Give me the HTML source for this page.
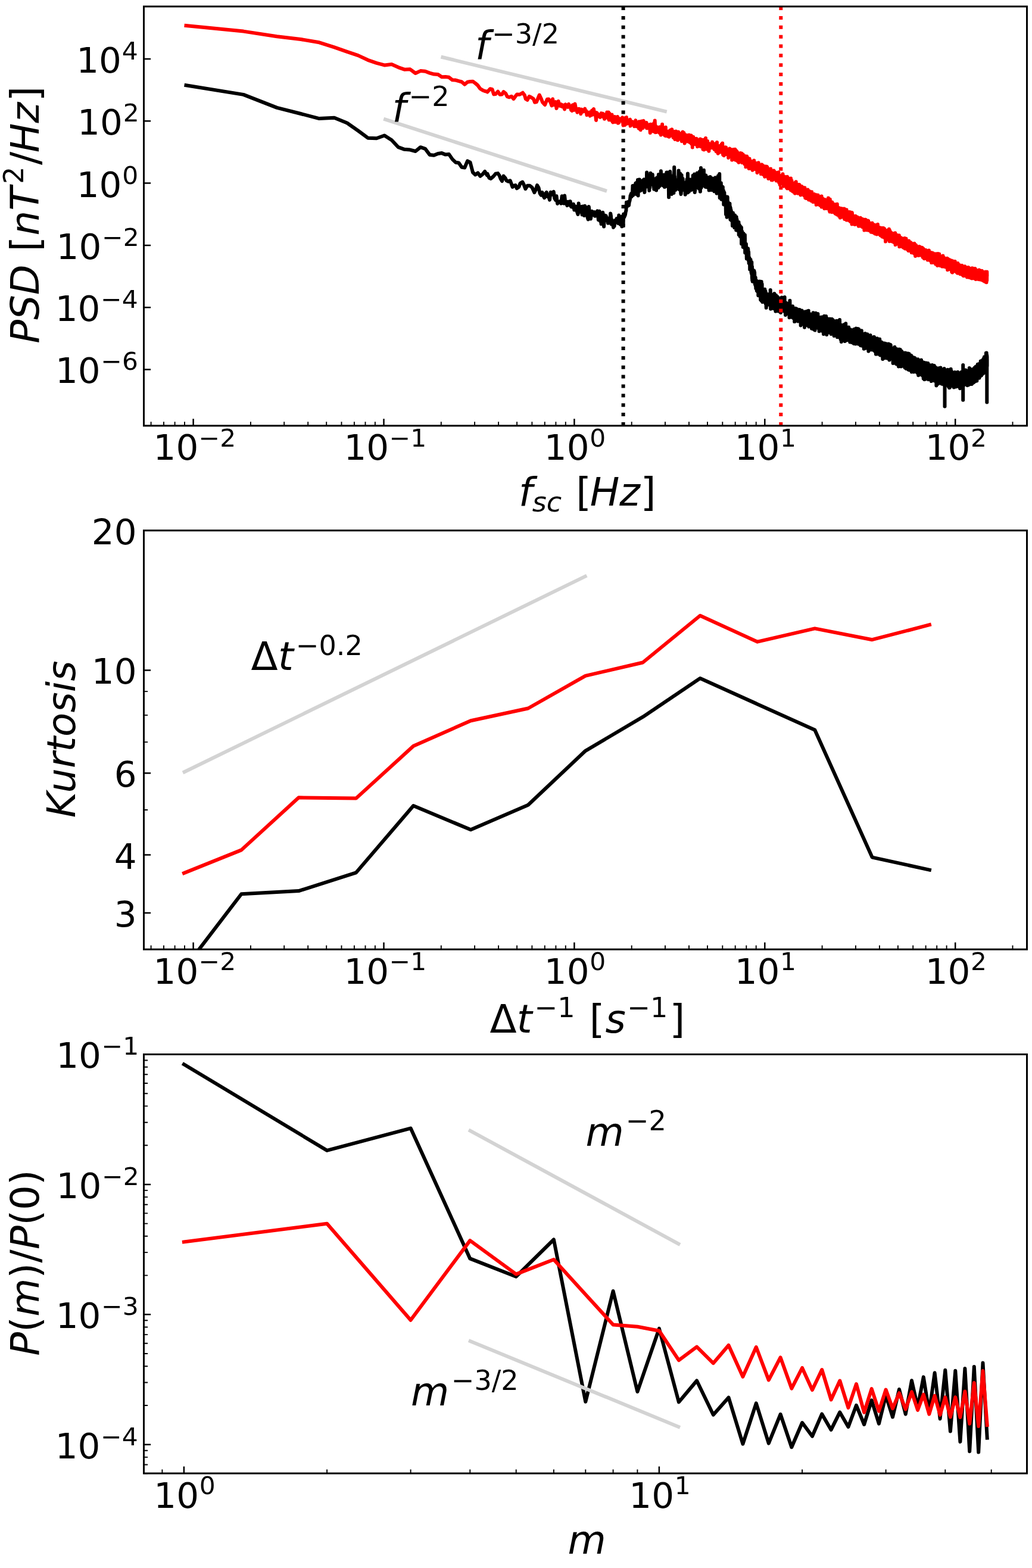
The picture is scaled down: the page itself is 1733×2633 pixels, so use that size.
<!DOCTYPE html>
<html lang="en"><head><meta charset="utf-8"><title>PSD, Kurtosis and P(m)/P(0)</title>
<style>html,body{margin:0;padding:0;background:#fff}body{width:1733px;height:2633px;overflow:hidden}svg{display:block}text{fill:#000}.i{font-style:italic}</style></head>
<body>
<svg width="1733" height="2633" viewBox="0 0 1733 2633" font-family='"DejaVu Sans","Liberation Sans",sans-serif'>
<rect width="1733" height="2633" fill="#fff"/>
<defs>
<clipPath id="c0"><rect x="241.5" y="10.9" width="1483" height="704"/></clipPath>
<clipPath id="c1"><rect x="241.5" y="890.8" width="1483" height="703.4"/></clipPath>
<clipPath id="c2"><rect x="241.5" y="1770.5" width="1483" height="703.6"/></clipPath>
</defs>
<g clip-path="url(#c0)">
<path d="M740.5 95.5L1119.7 187.6" fill="none" stroke="#d3d3d3" stroke-width="6" stroke-linecap="butt" stroke-linejoin="round"/>
<path d="M644.2 199.7L1019 320.8" fill="none" stroke="#d3d3d3" stroke-width="6" stroke-linecap="butt" stroke-linejoin="round"/>
<path d="M312.5 143.3L408.8 158.9L465.1 180.9L505.1 191L536.1 199.1L561.4 197.8L582.8 206.5L601.4 219.5L617.8 231.7L632.4 232.3L645.6 227.5L657.7 235.2L668.9 247.2L679.1 250.8L688.7 251.6L697.7 254L706.1 247.2L714.1 249.9L721.6 259.9L728.7 260.7L735.5 257.9L741.9 257.1L748.1 259.6L754 259.1L759.7 267.4L765.1 272.7L770.4 273.5L775.4 280.7L780.3 281.5L785 270.3L789.6 272.7L794 289.5L798.3 293.5L802.4 290.3L806.4 295.8L810.4 292.7L814.2 287.9L817.9 294.3L818.4 291.8L821.5 298.7L824.2 299.9L828.4 296.4L832.2 291.8L836.1 291.1L838.7 294.9L840.7 300.2L843 304.1L845.6 295.7L848.3 298.7L850.6 303.3L853.7 304.8L856.7 303.3L859 309.4L860.6 314L863.6 311.7L865.6 311L867.9 316.3L871.3 314L873.6 307.9L877.4 305.6L879.7 310.2L882.4 317.1L885.9 311.7L889.7 311.7L893.5 314.8L897.4 323.2L899.7 318.6L902 311L904.6 315.6L906.7 324.8L908.6 327.7L910.5 323L912.3 328.7L914.2 332.2L916 325.7L917.8 322.9L919.6 330.2L921.3 330.2L923 335.7L924.7 322.7L926.4 326.9L928.1 326.5L929.7 321.9L931.3 333.1L933 336L934.5 329.3L936.1 342L937.7 339.3L939.2 338.8L940.7 338L942.2 341.7L943.7 329.2L945.2 341L946.6 341.6L948.1 328.6L949.5 341.4L950.9 338.6L952.3 345.1L953.7 338.7L955.1 341.8L956.4 344.4L957.7 338.1L959.1 347.1L960.4 343.7L961.7 347.9L963 342.7L964.3 352.6L965.5 350.6L966.8 346.7L968 352.1L969.3 356.3L970.5 360L971.7 341.4L972.9 356.1L974.1 354.4L975.3 351.8L976.5 347L977.6 360.5L978.8 346.4L979.9 357.3L981.1 362L982.2 345.7L983.3 353.6L984.4 348.2L985.5 357.5L986.6 365.2L987.7 368.5L988.8 347L989.8 354.3L990.9 362.1L991.9 367.5L993 361.1L994 354.7L995 361L996 359.5L997 358.8L998.1 356L999 362.8L1000 362.6L1001 360.6L1002 360.2L1003 354.3L1003.9 359.2L1004.9 369.3L1005.8 361.5L1006.8 354.6L1007.7 370.9L1008.6 366.6L1009.6 376.1L1010.5 364.6L1011.4 362L1012.3 356.7L1013.2 373L1014.1 380.6L1015 361.3L1015.9 362.7L1016.7 370.2L1017.6 362.3L1018.5 365.9L1019.3 365.8L1020.2 369.3L1021 374.8L1021.9 369L1022.7 374.5L1023.5 367.1L1024.4 372L1025.2 358.4L1026 362.9L1026.8 376.5L1027.6 369.1L1028.5 376.4L1029.3 376.8L1030 381.9L1030.8 378.8L1031.6 379.9L1032.4 373.3L1033.2 369.9L1034 369.6L1034.7 370.9L1035.5 367.1L1036.3 370.4L1037 373L1037.8 374.9L1038.5 371.4L1039.3 361.6L1040 371.6L1040.7 372.6L1041.5 377L1042.2 373.3L1042.9 365.1L1043.6 363.9L1044.4 380.3L1045.1 371.7L1045.8 378L1046.5 379.4L1047.2 359.4L1047.9 365.3L1048.6 363.7L1049.3 362.4L1050 360.3L1050.7 355.9L1051.4 353.7L1052 339.8L1052.7 347.3L1053.4 341L1054 345.4L1054.7 339L1055.4 345.2L1056 344.8L1056.7 339.4L1057.3 337.8L1058 334.5L1058.6 328.6L1059.3 329.2L1059.9 324.9L1060.6 330.4L1061.2 325.8L1061.8 328.7L1062.5 311.9L1063.1 328L1063.7 313.3L1064.3 311.9L1065 315.6L1065.6 312.4L1066.2 319L1066.8 311.8L1067.4 307.5L1068 309.1L1068.6 326.1L1069.2 315.6L1069.8 305.7L1070.4 314.8L1071 302L1071.6 328.5L1072.2 301.8L1072.8 317.5L1073.3 317.8L1073.9 301.6L1074.5 315.3L1075.1 320.6L1075.7 316.1L1076.2 314.2L1076.8 319.5L1077.4 312.9L1077.9 314.1L1078.5 310.1L1079 315.9L1079.6 303.1L1080.2 316.7L1080.7 306.1L1081.3 301.2L1081.8 312.6L1082.4 323L1082.9 317L1083.4 305L1084 314.5L1084.5 305.1L1085 307.5L1085.6 309L1086.1 289.6L1086.6 309.5L1087.2 299.5L1087.7 302L1088.2 295.6L1088.7 295.1L1089.3 299.5L1089.8 313.5L1090.3 320L1090.8 306.3L1091.3 315L1091.8 304L1092.3 290.7L1092.8 307L1093.3 309.2L1093.8 302L1094.3 307.7L1094.8 309.6L1095.3 298L1095.8 292.9L1096.3 302.8L1096.8 302.7L1097.3 301.4L1097.8 311.9L1098.3 317.7L1098.8 300.3L1099.3 309.2L1099.7 311.1L1100.2 309.2L1100.7 311.8L1101.2 300.3L1101.7 309.3L1102.1 319.5L1102.6 309.7L1103.1 298.2L1103.5 308L1104 313.2L1104.5 306L1104.9 298.5L1105.4 315.3L1105.9 292.9L1106.3 306.9L1106.8 302.7L1107.2 293.2L1107.7 312.5L1108.1 305.5L1108.6 293.3L1109 307.4L1109.5 299.1L1109.9 287.3L1110.4 297L1110.8 304.5L1111.3 307.5L1111.7 303.7L1112.1 302.7L1112.6 306L1113 300.5L1113.5 311.6L1113.9 303.3L1114.3 304.4L1114.8 306.4L1115.2 293.5L1115.6 296.3L1116.1 314.1L1116.5 304.6L1116.9 299.7L1117.3 304.7L1117.8 298.1L1118.2 304.3L1118.6 296.7L1119 304.3L1119.4 289.5L1119.8 312.8L1120.3 298.1L1120.7 289.5L1121.1 300.4L1121.5 299.3L1121.9 303.5L1122.3 293.1L1122.7 305.5L1123.1 331.3L1123.5 292.1L1123.9 305.1L1124.3 299.9L1124.8 304L1125.2 288L1125.6 293.3L1125.9 306.2L1126.3 302.2L1126.7 315.7L1127.1 297L1127.5 304L1127.9 326L1128.3 296.6L1128.7 295.5L1129.1 302.4L1129.5 302.4L1129.9 309.5L1130.3 303.8L1130.6 296.8L1131 304.5L1131.4 324L1131.8 313.1L1132.2 280.7L1132.6 301.8L1132.9 296L1133.3 308L1133.7 301.9L1134.1 319.1L1134.4 311.4L1134.8 311.4L1135.2 306.2L1135.6 304.7L1135.9 308.1L1136.3 316.1L1136.7 310.3L1137 303.6L1137.4 316.9L1137.8 308.6L1138.1 306.8L1138.5 301.4L1138.9 303.6L1139.2 303.3L1139.6 286.4L1139.9 317.2L1140.3 314L1140.7 308.1L1141 318.5L1141.4 313.9L1141.7 313.7L1142.1 291.3L1142.4 309.3L1142.8 315.5L1143.2 324.2L1143.5 326.1L1143.9 322.9L1144.2 302.2L1144.6 294L1144.9 316.2L1145.2 311.9L1145.6 319.5L1145.9 310.9L1146.3 313.7L1146.6 300L1147 315.6L1147.3 308.6L1147.7 315L1148 315.9L1148.3 311.4L1148.7 314.9L1149 312.4L1149.3 318.6L1149.7 316.6L1150 308.3L1150.3 308L1150.7 326.7L1151 311.8L1151.3 320.4L1151.7 315.4L1152 307.5L1152.3 305.9L1152.7 312.6L1153 313.5L1153.3 316.2L1153.6 301L1154 306.2L1154.3 310L1154.6 323.4L1154.9 291.5L1155.3 313.7L1155.6 305.7L1155.9 313.3L1156.2 305.7L1156.6 312.4L1156.9 321.8L1157.2 311.9L1157.5 312.4L1157.8 311.7L1158.1 302.6L1158.5 312.7L1158.8 306.5L1159.1 301.5L1159.4 307.6L1159.7 306L1160 313.7L1160.3 307.2L1160.6 303.3L1161 319L1161.3 315.2L1161.6 317.4L1161.9 312L1162.2 306.1L1162.5 303.6L1162.8 304.6L1163.1 314.3L1163.4 307.6L1163.7 294.7L1164 306.2L1164.3 295.1L1164.6 307.6L1164.9 296.6L1165.2 296L1165.5 307L1165.8 305.3L1166.1 292.5L1166.4 311.7L1166.7 323L1167 293.7L1167.3 320L1167.6 299.9L1167.9 301.3L1168.2 303.8L1168.5 293.5L1168.8 315.4L1169.1 308.8L1169.4 298.8L1169.6 302.5L1169.9 292.5L1170.2 301.7L1170.5 311.9L1170.8 290.6L1171.1 300.7L1171.4 305.3L1171.7 312.4L1172 314.7L1172.2 300.2L1172.5 297.8L1172.8 307.2L1173.1 300.6L1173.4 301L1173.7 312L1173.9 316.8L1174.2 305.3L1174.5 301.5L1174.8 307.5L1175.1 287.8L1175.3 302.6L1175.6 294.2L1175.9 321.7L1176.2 308.3L1176.5 303.5L1176.7 300.8L1177 282.1L1177.3 307.8L1177.6 315.1L1177.8 296.1L1178.4 307.5L1178.7 289.3L1178.9 309.1L1179.2 312.3L1179.5 303.2L1179.7 300.8L1180 307.5L1180.3 289.1L1180.5 302.3L1180.8 310.2L1181.1 292L1181.3 310L1181.6 298.9L1181.9 285.8L1182.1 301.7L1182.4 295L1182.7 305.5L1182.9 293.7L1183.2 311.7L1183.5 297.5L1183.7 306.5L1184 299L1184.3 301.4L1184.5 313.6L1184.8 306L1185 301.3L1185.3 294.6L1185.6 314.1L1185.8 310.8L1186.1 302.5L1186.3 307.2L1186.6 297.2L1186.8 297.5L1187.4 308.8L1187.6 308.5L1187.9 300.3L1188.1 312.3L1188.4 312.9L1188.6 308.2L1188.9 315.2L1189.1 304.8L1189.4 306.4L1189.6 311.2L1189.9 307.3L1190.1 314.1L1190.4 297.9L1190.6 319.5L1190.9 302L1191.1 307.1L1191.4 297.5L1191.6 313.5L1191.9 319.1L1192.1 317.6L1192.4 315.9L1192.6 296.9L1192.9 303.2L1193.1 306L1193.4 302.3L1193.6 319L1193.9 311.6L1194.1 309.9L1194.3 314.1L1194.6 302.6L1194.8 303L1195.1 303.2L1195.3 314.3L1195.6 313L1195.8 315L1196 319L1196.3 299.5L1196.5 305.9L1196.8 311.6L1197 299.7L1197.2 306.2L1197.5 318.6L1197.7 319.4L1198.2 311L1198.4 308.9L1198.7 319.3L1198.9 307.7L1199.4 321.3L1199.6 307.8L1199.8 305.9L1200.1 310.8L1200.3 315.6L1200.5 314.7L1200.8 312.2L1201 315.4L1201.2 298.2L1201.7 312.3L1201.9 303.6L1202.2 300.3L1202.4 301.4L1202.6 303.8L1202.8 309.7L1203.1 303L1203.5 324.8L1203.8 310.1L1204 321.5L1204.2 313.6L1204.4 302.4L1204.7 309.3L1204.9 303.5L1205.1 317.6L1205.3 302.2L1205.6 322L1205.8 316.1L1206 295.3L1206.5 324L1206.7 305.3L1206.9 319.5L1207.1 297.3L1207.3 313.7L1207.6 298.4L1207.8 316L1208 298.3L1208.2 292L1208.4 316.6L1208.7 332.2L1208.9 309.6L1209.1 321.5L1209.5 313.2L1209.8 321.2L1210 329.8L1210.2 307.3L1210.4 322.1L1210.6 320.8L1210.8 307.2L1211.3 334.8L1211.5 312.3L1211.7 334L1211.9 321.2L1212.1 319.9L1212.4 333.5L1212.6 323.9L1212.8 325.1L1213 335.1L1213.2 334L1213.6 314.5L1213.8 313.9L1214.1 335.4L1214.3 320.3L1214.5 329.3L1214.7 320.6L1214.9 328.1L1215.1 320.4L1215.3 343.4L1215.5 323.8L1215.7 331.4L1216.1 342.8L1216.4 323.6L1216.6 334.8L1216.8 334.1L1217 340.4L1217.2 340.6L1217.4 334.3L1217.6 340.2L1217.8 336.3L1218 343.3L1218.4 336.3L1218.6 341.6L1219 359.9L1219.2 340.2L1219.6 356L1219.8 330.4L1220.2 337.6L1220.4 345.8L1220.6 364.8L1220.8 350.2L1221 356.4L1221.5 330.5L1221.7 332L1221.9 356.3L1222.1 350.7L1222.2 340.3L1222.4 358L1222.6 339.3L1222.8 358.8L1223 361.3L1223.2 345.9L1223.4 343.8L1223.6 358L1223.8 344.6L1224 358.7L1224.2 344.5L1224.4 359L1224.6 354.3L1225 348L1225.2 356.3L1225.4 341.7L1225.8 352.8L1226 360.6L1226.2 347.6L1226.4 368.4L1226.6 354.7L1226.8 349.4L1226.9 367.1L1227.1 369.3L1227.5 352.4L1227.7 358.9L1227.9 354.4L1228.1 357.3L1228.3 370.3L1228.7 361.5L1228.9 363.2L1229 360.8L1229.2 367.2L1229.4 367.8L1229.6 359.8L1230 379.1L1230.2 366.1L1230.4 362.5L1230.6 377.6L1230.7 364.5L1230.9 357.5L1231.1 369.6L1231.3 359.5L1231.7 368.3L1231.9 365.7L1232 361.9L1232.2 363.6L1232.4 363.7L1232.6 375.5L1232.8 363.6L1233 364.9L1233.2 382.1L1233.3 365.7L1233.5 379.2L1233.7 378.4L1234.1 361.6L1234.3 373.9L1234.6 377.9L1234.8 372.5L1235.2 381.5L1235.3 366.4L1235.5 382.4L1235.9 370.5L1236.1 372.4L1236.2 386.5L1236.4 381.3L1236.6 364.3L1236.8 376.3L1237.1 375.5L1237.3 373.8L1237.5 368.4L1237.7 383.1L1237.9 372.4L1238 376.3L1238.4 374.9L1238.6 384.3L1238.9 376.5L1239.1 375.2L1239.5 387.6L1239.6 382.9L1239.8 383.9L1240 381L1240.2 381.8L1240.3 385L1240.5 373.1L1240.7 394.2L1240.9 380.2L1241.2 393.7L1241.4 387.4L1241.5 386.7L1241.9 377.9L1242.1 388.8L1242.4 383L1242.6 397L1242.8 382.5L1243.1 393L1243.3 390.4L1243.4 394.9L1243.8 385.4L1243.9 380.8L1244.3 386.2L1244.5 384.5L1244.6 395.3L1245 382.3L1245.1 409.4L1245.5 387.9L1245.6 403.2L1245.8 403.2L1246.1 388.5L1246.3 391.8L1246.5 404.9L1246.6 396.8L1246.8 394.3L1247.1 407.3L1247.3 392.3L1247.5 398.8L1247.6 393.3L1247.8 414.9L1248 413.3L1248.1 408.6L1248.3 402.6L1248.5 407.8L1248.6 391.9L1248.8 406.5L1249.1 397.9L1249.3 402.1L1249.8 411.8L1249.9 409.7L1250.1 403L1250.3 413.1L1250.4 408.8L1250.6 417L1250.9 394.6L1251.1 408.6L1251.2 424.6L1251.6 411.6L1251.7 418.4L1251.9 416.7L1252.1 416.9L1252.2 411.6L1252.5 416.7L1252.7 412.2L1252.9 409.8L1253.2 423.1L1253.3 421.6L1253.5 421.2L1253.8 434.4L1254 421.1L1254.1 426.2L1254.3 432.2L1254.4 421.6L1254.6 423.5L1254.8 428.7L1254.9 433.1L1255.1 425.6L1255.2 426.5L1255.5 418.4L1255.7 432.7L1255.9 425.3L1256 417.2L1256.2 427.1L1256.3 418.4L1256.5 423.2L1256.9 437.3L1257.1 422.9L1257.6 441.9L1257.7 439.4L1258.2 435.4L1258.3 443L1258.5 433.1L1258.8 437.6L1258.9 440.1L1259.1 437.7L1259.2 452.4L1259.4 436.6L1259.9 446L1260 445.7L1260.3 450L1260.5 436.1L1260.6 445.6L1260.8 439L1260.9 448.2L1261.1 440.5L1261.2 442.5L1261.5 457.5L1261.7 453.3L1261.8 452.3L1262 459.4L1262.3 440.2L1262.4 450.6L1262.9 467.4L1263 447.8L1263.2 470.6L1263.5 462.3L1263.6 460.2L1263.8 472.8L1264 457.1L1264.2 461.3L1264.3 453.1L1264.8 464.6L1264.9 465.2L1265.1 457.4L1265.2 471.6L1265.4 458.5L1265.5 470L1265.7 456L1265.9 461.4L1266.1 466.8L1266.4 454.8L1266.5 461.4L1266.7 468.7L1266.8 472.4L1267.1 457.3L1267.3 465L1267.4 469.3L1267.7 466.7L1267.8 476.8L1268 477.9L1268.3 467.7L1268.4 474L1268.5 472.9L1268.7 466.1L1268.8 480L1269 475.8L1269.1 472.9L1269.3 484.3L1269.5 481.9L1269.7 484.4L1270 470.9L1270.1 476.3L1270.2 484.6L1270.4 474.6L1270.7 481.8L1270.8 488.1L1271.2 479.4L1271.4 485.9L1271.5 483.9L1271.6 480.2L1271.8 489.2L1271.9 484.4L1272.1 477.5L1272.2 489.4L1272.5 485.9L1272.6 474L1272.8 482.9L1273.2 472.7L1273.3 496.2L1273.4 483.3L1273.7 491L1273.9 484.1L1274 488L1274.1 477.4L1274.3 486.6L1274.4 483.3L1274.5 488.8L1275 476L1275.1 481L1275.2 491.3L1275.5 489.8L1275.6 476.2L1275.8 472.5L1276 486.5L1276.2 485.2L1276.3 490.9L1276.6 482.5L1276.7 484.5L1276.8 490.6L1277.2 503.3L1277.4 488.9L1277.5 491.3L1277.6 485L1277.9 494L1278 494.4L1278.6 480.9L1278.7 473.1L1278.8 505.2L1279.1 491.9L1279.2 482.5L1279.5 500.4L1279.6 476.9L1279.8 491.1L1279.9 498.1L1280.3 492.8L1280.4 507.3L1280.7 486.2L1280.9 502.4L1281.1 494L1281.5 488L1281.6 502.9L1281.7 504L1282.1 488.9L1282.2 489L1282.5 499.2L1282.8 488L1282.9 497.4L1283 496.5L1283.3 496.6L1283.4 495.7L1283.5 500.4L1283.9 493.5L1284 499.8L1284.3 485.8L1284.4 500.7L1284.6 496.6L1284.7 503.5L1284.8 497.4L1285.2 498.7L1285.3 496.4L1285.4 488.9L1285.6 509.6L1285.7 490.3L1285.8 497.5L1286.3 504.3L1286.4 507.3L1286.7 516.8L1286.8 494.8L1286.9 501.9L1287.1 498.7L1287.4 509.3L1287.6 497.1L1287.7 497.2L1288.1 512.4L1288.2 507.2L1288.3 502.8L1288.4 499.7L1288.6 502.9L1288.7 500.7L1288.8 494.1L1288.9 501.9L1289.3 499.6L1289.4 511.6L1289.9 496.6L1290 500.8L1290.3 500.6L1290.5 508.1L1290.6 504.5L1290.8 497.3L1291.1 504.1L1291.3 496.5L1291.5 507.1L1291.7 498.2L1291.9 500L1292.2 508.3L1292.3 502.9L1292.5 496.4L1292.6 511.8L1292.9 505.7L1293.1 498.3L1293.4 510.1L1293.5 504.7L1293.7 486.9L1294 511.9L1294.1 508.7L1294.2 518.7L1294.7 497.2L1294.8 509.8L1295.1 502.2L1295.3 507.6L1295.4 502.8L1295.8 506.9L1295.9 503.3L1296 508.7L1296.1 495L1296.5 503.2L1296.6 508.9L1297.1 515L1297.2 500.1L1297.3 511.3L1297.4 498L1297.8 501.9L1297.9 507.8L1298 510.8L1298.1 500.2L1298.3 504.9L1298.5 496.2L1298.8 514.7L1298.9 502.4L1299 516.8L1299.1 504.4L1299.3 518.2L1299.6 512.1L1299.7 512.7L1299.9 517.5L1300.2 501L1300.3 493.1L1300.5 512.4L1300.7 508.9L1300.8 506.4L1301.2 510.7L1301.3 498.8L1301.4 512.7L1301.5 500.6L1302 503.1L1302.1 502.6L1302.4 522.8L1302.5 506.9L1302.6 505.6L1303 495.8L1303.1 508.1L1303.2 511.3L1303.3 501.3L1303.8 511.8L1303.9 512.6L1304.1 506.1L1304.2 515L1304.3 507.7L1304.4 512.1L1304.5 514.2L1304.7 503.3L1305 504.3L1305.1 505.6L1305.3 515.3L1305.5 498.3L1305.6 514.8L1305.7 522.2L1306 507.8L1306.2 513.8L1306.3 516L1306.5 505.1L1306.7 514.6L1306.8 504L1307.4 515.9L1307.5 514.6L1307.7 504.3L1307.9 519.5L1308 522.7L1308.1 511.7L1308.5 513.9L1308.7 516L1309 507.7L1309.2 511.7L1309.3 509.8L1309.4 500.8L1309.6 514.4L1309.7 512.3L1309.8 510.5L1310.1 517.4L1310.2 508.4L1310.3 513L1310.5 511.1L1310.7 504.8L1311 525L1311.1 512.7L1311.4 523.6L1311.5 508.2L1311.6 512.6L1312 519.6L1312.1 505.9L1312.2 513.6L1312.3 522.6L1312.8 499.6L1312.9 513.4L1313 520.5L1313.2 504L1313.4 514.7L1313.5 519.7L1313.9 504.6L1314 520.6L1314.1 515.6L1314.2 520.5L1314.4 513.1L1314.5 513.9L1314.6 510L1314.7 503.6L1315.1 518.9L1315.2 515.6L1315.5 505.6L1315.6 519.5L1315.7 518.6L1315.8 514.7L1316.3 504.6L1316.4 519.9L1316.9 507.1L1317 522.5L1317.3 522.9L1317.6 499.1L1317.7 518L1317.8 523.4L1318 513.4L1318.2 518L1318.2 506.7L1318.7 525.3L1318.8 516.9L1318.9 507.7L1319 528.9L1319.3 526.3L1319.4 514.2L1319.5 510.4L1319.6 522.8L1319.9 511.4L1320 515.2L1320.4 526.5L1320.5 524.4L1320.6 525.4L1320.8 509L1321.1 517.2L1321.2 512L1321.3 509.3L1321.5 517.9L1321.8 514.8L1321.9 521.8L1322 516.7L1322.2 525.6L1322.4 521.8L1322.5 512.9L1322.6 520.4L1323 513.3L1323.1 517.4L1323.2 524.7L1323.4 512.7L1323.5 522.7L1323.6 516.8L1323.9 511.6L1324 525.1L1324.1 522.1L1324.2 513.1L1324.3 509.6L1324.8 528L1324.9 518.2L1325 527.6L1325.3 511.4L1325.3 525L1325.4 523.8L1325.5 533.2L1325.9 515.2L1326 521.9L1326.2 530.4L1326.4 504.7L1326.6 516.4L1326.7 525.5L1327.1 516.5L1327.2 529.2L1327.6 519.1L1327.7 532.1L1327.8 523.3L1327.9 524.1L1328.2 516L1328.3 524.4L1328.4 529.7L1328.6 516.8L1329 524.7L1329.1 516.4L1329.2 529.2L1329.5 514.8L1329.5 527.3L1329.6 519.1L1329.8 532.8L1330 517.3L1330.2 519L1330.3 527.2L1330.5 524.7L1330.7 527.5L1330.8 533.1L1331.1 514.3L1331.4 518L1331.5 525.6L1331.6 530L1331.8 521.9L1331.9 525.4L1332 521.9L1332.4 529L1332.5 525.8L1332.6 534.5L1333.2 521.1L1333.3 525.6L1333.4 522.4L1333.5 532.2L1333.7 531.9L1333.8 527.3L1334 522.7L1334.2 540.1L1334.3 531.5L1334.4 527.5L1334.6 520.2L1334.9 530.9L1335 524.4L1335 525.6L1335.5 526.5L1335.6 517.7L1335.7 521.8L1335.8 521.5L1335.9 528.4L1336.2 522L1336.3 523.4L1336.4 530.1L1336.7 528.6L1336.8 528.5L1336.9 536.2L1337.3 521.8L1337.4 531.7L1337.8 523.5L1337.9 529.9L1338 518.8L1338.4 532.3L1338.5 526.1L1338.6 531.4L1338.8 526.7L1339 536.9L1339.1 531.5L1339.2 522.7L1339.7 539.5L1339.7 520.3L1339.8 535.7L1340 519.9L1340.2 537L1340.3 520.7L1340.4 526.7L1340.5 523.3L1340.8 539.3L1340.9 528.5L1341 527.9L1341.4 537.5L1341.4 524.2L1341.5 528.4L1341.6 532.3L1341.7 539L1341.8 528.2L1342.2 535.6L1342.3 531.6L1342.6 538.7L1342.7 519.9L1342.8 525.6L1342.9 538L1343 527.1L1343.4 534.7L1343.4 530L1343.7 536.6L1343.8 524.9L1343.9 534.4L1344 524.5L1344.1 522.7L1344.2 534L1344.5 526L1344.6 546.4L1344.9 523.8L1345.2 534.5L1345.3 528.9L1345.3 540.9L1345.5 525L1345.8 534.8L1345.8 532.4L1346.2 523.9L1346.2 536.9L1346.3 531.1L1346.4 533.4L1346.6 521.4L1346.7 539.3L1347 524.4L1347.1 529.4L1347.4 529L1347.5 532.3L1347.6 534L1347.8 541.5L1348.2 527.2L1348.3 524.2L1348.6 539.5L1348.8 524.9L1348.8 531.6L1348.9 542.2L1349.1 526.1L1349.4 531.3L1349.5 534.1L1349.7 544.4L1349.9 531.5L1350 536.4L1350.1 528.5L1350.4 538.1L1350.6 533.9L1350.7 533.1L1351 549.8L1351.1 527.6L1351.1 535.3L1351.2 532.9L1351.6 540.4L1351.7 523.5L1351.8 535.3L1351.8 536.4L1352.2 540.5L1352.3 527.5L1352.4 537.6L1352.5 533.1L1352.8 538.7L1352.9 526.7L1352.9 533.5L1353 532.2L1353.1 542.7L1353.3 525.5L1353.6 536.7L1353.6 531.1L1353.7 524.7L1353.9 541.7L1354.2 531.1L1354.2 531.1L1354.3 528.7L1354.8 546.1L1354.9 522.8L1355.3 539.1L1355.4 532.4L1355.5 537.6L1355.9 528.2L1355.9 544.1L1356 541.4L1356.3 544.4L1356.5 531.4L1356.5 536.1L1356.6 536.6L1356.8 542.4L1357.1 527.8L1357.1 533L1357.2 536L1357.4 541.9L1357.7 521.7L1357.7 530.1L1357.8 528.5L1358.3 548.6L1358.3 538.1L1358.4 535.1L1358.6 529.5L1358.8 544.8L1358.9 541.2L1359 543.2L1359.3 530.3L1359.5 540.3L1359.6 536.8L1359.7 527L1359.8 544.3L1360.2 534.3L1360.3 537.4L1360.3 530.3L1360.7 542.9L1360.8 536.4L1360.9 539.6L1361.1 542.5L1361.2 532.4L1361.4 542L1361.4 541.7L1361.5 534.3L1361.7 544.8L1362 537.6L1362 541.2L1362.2 543.4L1362.3 535.1L1362.5 540L1362.6 540.4L1362.7 532L1363 551.8L1363.2 537.8L1363.3 542L1363.7 549.5L1363.8 528.9L1363.8 546.5L1364.1 537.1L1364.3 544.1L1364.4 538.3L1364.8 545.9L1364.9 530.3L1365 538.8L1365.1 547.6L1365.5 525.3L1365.6 536L1365.6 542.3L1365.8 528.5L1366 552.7L1366.2 531.5L1366.3 527.4L1366.4 544.9L1366.8 538.7L1366.8 542.3L1367.1 550.1L1367.2 534.4L1367.4 549.5L1367.5 540.8L1367.5 545.6L1367.7 536.8L1367.9 542.2L1368 547.3L1368.3 531.5L1368.4 554.6L1368.6 543.1L1368.6 540.8L1368.7 544.8L1369.2 531.8L1369.3 551.5L1369.4 532.1L1369.7 536.3L1369.8 525.8L1370 546.2L1370.4 539.8L1370.4 542.5L1370.5 536L1370.6 549.4L1371 546.5L1371 548.8L1371.3 533.9L1371.6 535.5L1371.7 533.8L1371.7 550.1L1371.9 533L1372.1 541.5L1372.2 547.8L1372.7 538.4L1372.7 545.1L1372.8 537.5L1373.3 550.3L1373.4 526.9L1373.9 550.9L1374 543.4L1374.1 536.1L1374.2 544L1374.5 537.7L1374.6 548.4L1374.7 536.2L1375.1 539.2L1375.2 533.6L1375.6 556.3L1375.7 538.3L1375.8 542.7L1375.9 549.2L1376 534.9L1376.4 540L1376.5 544.9L1376.9 534.5L1376.9 551.5L1377 544.9L1377.1 547.3L1377.6 534.9L1377.6 547.8L1377.8 538.1L1378 549.1L1378.2 543.6L1378.2 537.1L1378.3 550.7L1378.4 532.7L1378.7 543.3L1378.8 538.8L1379.1 552L1379.4 540.5L1379.4 545.9L1379.6 551L1380 541.1L1380 548.1L1380.4 532.4L1380.6 544.7L1380.7 545.6L1380.7 534.2L1380.8 556.1L1381.2 542.3L1381.2 545.5L1381.4 539.8L1381.7 556.4L1381.7 545.5L1381.8 543.8L1382.1 541.4L1382.4 547.8L1382.4 548.8L1382.8 534.7L1382.9 561.1L1383 535.4L1383.1 552.6L1383.1 535.9L1383.2 553.2L1383.6 548.5L1383.6 542.8L1384.1 552.3L1384.1 530.8L1384.2 551.2L1384.2 541.8L1384.6 539.3L1384.7 549.4L1384.7 542L1384.8 551.9L1385.2 552.5L1385.3 540L1385.4 540.8L1385.4 546.1L1385.5 532.6L1386 548.8L1386 551.3L1386.4 537.9L1386.5 553L1386.6 545L1386.6 543.1L1386.9 552.9L1387.1 531L1387.2 544.3L1387.3 541.3L1387.5 555.6L1387.7 538.9L1387.8 549.7L1387.9 547.8L1388.1 542.8L1388.2 562L1388.4 546.9L1388.5 544.4L1388.5 557.4L1388.9 539.8L1389 545.8L1389.1 553.3L1389.2 553.4L1389.4 535L1389.6 539.4L1389.7 548.6L1389.8 538.9L1390.1 558.2L1390.2 544.8L1390.3 544L1390.3 558.6L1390.6 540.7L1390.8 543.2L1390.8 544.6L1390.9 539.9L1391.3 556L1391.4 544.1L1391.4 547.7L1391.6 537.7L1391.9 552.5L1392 544.6L1392 538.3L1392.1 554L1392.6 539L1392.6 538.6L1393.2 551L1393.2 554.4L1393.4 555.6L1393.6 535.5L1393.8 544.6L1393.8 558L1394 542.1L1394.3 549.1L1394.4 553.1L1394.5 540.9L1394.6 556.2L1395 544.9L1395 545.9L1395.2 542.2L1395.4 558L1395.6 545.1L1395.6 561L1396.2 543.6L1396.2 553.7L1396.8 535.7L1396.8 548.4L1397.1 557.2L1397.2 542.7L1397.4 548.8L1397.4 549.9L1397.5 536.3L1398 555.2L1398 553.3L1398.2 540.9L1398.4 558.4L1398.6 551.4L1398.6 544.8L1398.8 537.4L1399.2 553.6L1399.2 550.1L1399.3 557.5L1399.6 540.8L1399.8 546.3L1399.8 550.5L1400.1 558.6L1400.3 544.3L1400.4 553L1400.4 550.2L1400.6 563.9L1400.9 539.8L1401 542.9L1401 540.3L1401.3 557.5L1401.6 557.2L1401.7 551.7L1402 557.6L1402.1 543.4L1402.2 549.9L1402.3 554.4L1402.4 554.9L1402.7 543.3L1402.8 545.7L1402.9 559.6L1403.1 547.2L1403.4 551.6L1403.4 550L1403.7 563.2L1403.7 545.3L1404 549L1404 539L1404.4 563.3L1404.6 553.4L1404.6 550L1405.1 538.8L1405.2 556.6L1405.2 551.6L1405.7 559.4L1405.7 548.7L1405.8 548.9L1406 566.2L1406.1 541.8L1406.4 548.8L1406.4 542.8L1406.6 557.9L1407 552.2L1407 562.1L1407.5 543.1L1407.6 555.3L1407.6 549.9L1407.9 557.8L1408.2 541L1408.2 548.7L1408.4 548.5L1408.5 563.2L1408.8 552.4L1408.8 553L1409 546L1409.2 566.3L1409.4 558.3L1409.4 559.7L1410 537L1410 557.1L1410.1 539.2L1410.3 561.7L1410.6 555.6L1410.6 554.9L1410.7 547.4L1410.8 564.2L1411.2 563.2L1411.2 564.1L1411.5 569.6L1411.6 548.7L1411.8 557.6L1411.8 552.6L1411.9 567.9L1412.3 551.4L1412.4 554.8L1412.4 560.1L1412.8 574L1412.9 549.1L1413 558.3L1413 553L1413.2 550.1L1413.2 561.7L1413.6 554.4L1413.6 559.7L1413.8 546.1L1413.8 564.6L1414.2 561.8L1414.2 554.4L1414.6 564.4L1414.7 552L1414.8 556.6L1414.8 559.9L1415.1 550.6L1415.4 566.1L1415.4 553.5L1415.5 562.8L1416 548.9L1416 552.8L1416.1 563.9L1416.5 549L1416.6 560.8L1416.6 571.3L1417 548.2L1417.2 556.3L1417.2 562.1L1417.6 545.1L1417.7 563.9L1417.8 556.7L1417.8 563.9L1417.9 548.3L1418.4 558L1418.4 552.8L1418.5 551.5L1418.9 573.1L1419 560.4L1419 554.2L1419.1 551.4L1419.1 570.6L1419.6 552.4L1419.6 562.7L1419.8 565.3L1420.2 543.2L1420.2 548.5L1420.3 567.3L1420.8 557.3L1420.8 563.3L1420.9 554.1L1421.1 565.8L1421.4 564L1421.4 564.9L1421.6 569.2L1421.7 552.7L1422 562.3L1422 560.3L1422.2 549.6L1422.3 569L1422.6 551.7L1422.6 557.4L1422.8 554.8L1422.8 571.2L1423.2 560L1423.2 552.9L1423.3 552.7L1423.7 569.7L1423.8 557L1423.8 558.2L1424.2 567L1424.4 553.9L1424.4 561.5L1424.5 556.8L1425 569.1L1425 553.2L1425.2 565.4L1425.2 549.5L1425.6 562.9L1425.6 564.9L1425.8 567.7L1426.2 557.5L1426.2 561.9L1426.5 571.6L1426.6 554.4L1426.8 563.2L1426.8 560.9L1427.1 555.2L1427.3 574.4L1427.4 567.5L1427.4 559.9L1427.7 574.3L1428 553.2L1428 559.3L1428.4 554L1428.4 564.1L1428.6 560.5L1428.6 562.2L1428.7 566.2L1428.7 554.1L1429.2 555.4L1429.2 559L1429.3 568.4L1429.7 557.6L1429.8 559.9L1429.8 559.1L1430 570.8L1430.1 556.3L1430.4 561.7L1430.4 557.3L1430.7 571.7L1431 567.4L1431 575.3L1431.3 558.1L1431.6 566.8L1431.6 554.2L1432 573.9L1432.2 571.7L1432.2 568.6L1432.4 555.5L1432.8 574.3L1432.8 567.2L1432.8 568.4L1432.9 568.9L1433.1 556.8L1433.4 566.9L1433.4 567.6L1433.8 559.4L1433.8 577.1L1434 562.3L1434 552.9L1434.5 565.2L1434.6 558.3L1434.6 567.7L1435.2 553.8L1435.2 553.6L1435.4 572.2L1435.8 560.6L1435.8 557.9L1436.3 557.8L1436.3 575.3L1436.4 559.5L1436.4 570.7L1436.5 557.1L1436.7 577.4L1437 570.2L1437 563.9L1437.4 551.6L1437.5 577.3L1437.6 562.6L1437.6 568.3L1438.1 561.2L1438.2 576.9L1438.2 567.5L1438.2 573.2L1438.5 575.3L1438.7 557.2L1438.8 557.4L1438.8 563.4L1439.2 555.6L1439.3 576.2L1439.4 564.7L1439.4 574.6L1439.8 552.6L1440 568.6L1440 567.4L1440.3 558.5L1440.5 573.7L1440.6 562.7L1440.6 552.1L1440.8 577.5L1441.2 574.2L1441.2 562.5L1441.3 575.5L1441.8 566L1441.8 565.4L1442.1 552.8L1442.1 574.9L1442.4 557.8L1442.4 559.6L1442.7 571.9L1443 569.3L1443 567.2L1443.1 559L1443.2 574L1443.6 565.8L1443.6 567.2L1443.9 578.7L1444 562.8L1444.2 573L1444.2 562.6L1444.4 575.8L1444.4 557.5L1444.8 570.6L1444.8 564.9L1444.9 559.1L1445.2 580.2L1445.4 562.9L1445.4 571.9L1445.5 574.3L1445.7 561.9L1446 566.3L1446 571.9L1446.2 579.7L1446.6 559.8L1446.6 563L1446.7 576.3L1446.8 555.3L1447.2 567.9L1447.2 574.9L1447.5 560.6L1447.7 580.8L1447.8 575L1447.8 564.1L1447.9 577.8L1448.4 566L1448.4 561.2L1448.6 579L1449 563.9L1449 573.7L1449.1 577.3L1449.2 562.4L1449.6 568.5L1449.6 572.7L1450 576.4L1450.2 562.7L1450.2 567.6L1450.2 568.8L1450.5 562.3L1450.7 585.8L1450.8 572.6L1450.8 575.1L1451.1 560.7L1451.2 578.8L1451.4 569.2L1451.4 581.9L1451.6 567.6L1452 574.3L1452 571.7L1452.2 581.8L1452.2 568.6L1452.6 569.9L1452.6 576.3L1452.8 581.3L1452.9 559.9L1453.2 573.2L1453.2 570.1L1453.6 562.2L1453.7 584.8L1453.8 576.1L1453.8 571.3L1454.2 581.5L1454.3 566.7L1454.4 574.6L1454.4 566.2L1454.5 581.5L1455 572.7L1455 579.4L1455.1 580.7L1455.4 564.3L1455.6 569.2L1455.6 575.5L1455.8 581.5L1456.1 567.6L1456.2 576.9L1456.2 569.3L1456.5 561.3L1456.7 581.8L1456.8 574L1456.8 573.6L1456.9 582.8L1457 568.5L1457.4 578.5L1457.4 575.8L1457.7 564.3L1457.9 580.3L1458 573.7L1458 578.4L1458.3 570L1458.4 589.7L1458.6 577.8L1458.6 577.8L1458.7 586.5L1459.2 566.8L1459.2 579.7L1459.3 565.5L1459.8 570.3L1459.8 571L1459.9 580.9L1460.4 567.2L1460.4 570.4L1460.4 574.6L1460.5 584.2L1460.7 570.6L1461 572.7L1461 571.4L1461.4 566.4L1461.5 587.3L1461.6 576.9L1461.6 575L1461.6 563L1462.1 584.2L1462.2 577.5L1462.2 579L1462.3 570.8L1462.6 586L1462.8 575.8L1462.8 577.1L1463 586.3L1463.3 570.5L1463.4 574.2L1463.4 582.2L1463.5 571.3L1463.9 587.3L1464 581.2L1464 577L1464.1 586L1464.3 569.2L1464.6 584.6L1464.6 581.9L1465 573L1465.1 587.6L1465.2 578.5L1465.2 579.8L1465.5 571.3L1465.7 583.5L1465.8 575.6L1465.8 583.6L1465.9 586.1L1466.1 571.5L1466.4 577.1L1466.4 581.8L1466.6 572.7L1466.8 586.3L1467 581L1467 582.5L1467.5 565.7L1467.6 586.2L1467.6 586L1467.6 574.6L1468 566L1468.2 588.6L1468.2 576L1468.3 588.2L1468.4 572.7L1468.8 582.8L1468.8 574.4L1469.2 588.7L1469.3 570L1469.4 582L1469.4 574.1L1469.8 590.8L1469.9 573.5L1470 584.1L1470 575.2L1470 572.1L1470.6 587.4L1470.6 576.4L1470.9 594.7L1471.1 574.2L1471.2 580.4L1471.2 585.9L1471.6 592.6L1471.7 576.2L1471.8 584.2L1471.8 588.3L1472.2 578L1472.4 583.4L1472.4 583.8L1472.4 594.4L1472.6 574.9L1473 580.6L1473 568.2L1473.2 593.9L1473.6 585.1L1473.6 581.7L1473.8 572.5L1474 592.8L1474.2 584.2L1474.2 574.9L1474.5 591.4L1474.7 571.8L1474.8 583L1474.8 587.4L1474.9 574.4L1475.3 590.8L1475.4 586.8L1475.4 587.2L1475.6 594.6L1475.7 575L1476 592.1L1476 587.7L1476.4 589.4L1476.5 576.5L1476.6 584.4L1476.6 580.6L1476.6 577.1L1476.7 589.8L1477.2 587L1477.2 586.8L1477.2 569.6L1477.7 588.3L1477.8 586.4L1477.8 587.6L1478.1 596.5L1478.4 576.9L1478.4 586.4L1478.4 586.4L1478.5 595.6L1478.5 576.5L1479 578.7L1479 588.9L1479.1 577.6L1479.5 592.8L1479.6 587.2L1479.6 592.8L1479.9 574.2L1480.2 584.2L1480.2 588.2L1480.3 578.2L1480.6 594.2L1480.8 588.8L1480.8 581.3L1481.1 576L1481.3 591.7L1481.4 589L1481.4 590.4L1481.7 577.3L1482 595.6L1482 587.2L1482.3 603L1482.4 578.1L1482.6 590.1L1482.6 584.7L1483 592.6L1483.1 576.2L1483.2 584.7L1483.2 590.1L1483.2 583.4L1483.5 595.9L1483.8 585.2L1483.8 579.8L1483.9 594.9L1483.9 576.9L1484.4 584L1484.4 584.5L1484.5 593.6L1484.8 576.6L1485 590.8L1485 590.8L1485.1 578.1L1485.3 601.2L1485.6 589.6L1485.6 581.2L1486 579.7L1486 597.7L1486.2 589.3L1486.2 582.3L1486.3 591.5L1486.5 576.7L1486.8 591.2L1486.8 589.6L1486.9 582.3L1487.2 596.5L1487.4 583.9L1487.4 589.9L1487.6 594.9L1487.9 580.3L1488 593.5L1488 588.6L1488.2 594.6L1488.3 582L1488.6 583.8L1488.6 581.7L1488.8 577.4L1489.2 598.1L1489.2 582.6L1489.3 601.5L1489.7 578.6L1489.8 587.6L1489.8 594L1489.9 600.3L1490.2 578.8L1490.4 586.9L1490.4 588.9L1490.6 578.8L1491 598.3L1491 588.9L1491 587.1L1491.3 598.1L1491.6 581.7L1491.6 595.5L1491.6 582.5L1491.9 599.1L1492.1 577.6L1492.2 586.1L1492.2 599.1L1492.6 602.1L1492.7 581L1492.8 586.8L1492.8 583.3L1493.1 582.7L1493.4 604.4L1493.4 591.4L1493.5 596.3L1493.6 579.9L1494 593.8L1494 602L1494.2 580.3L1494.6 594.8L1494.6 596.7L1494.8 600.7L1495.1 578.7L1495.2 586.3L1495.2 591.8L1495.3 600.5L1495.7 582.1L1495.8 589.3L1495.8 579.7L1495.9 598.5L1496.4 590.4L1496.4 584.4L1496.9 601.6L1497 596.9L1497 598.1L1497.3 585.6L1497.6 600.1L1497.6 596.8L1497.8 585.2L1498.1 599.3L1498.2 598.7L1498.2 589L1498.4 584.8L1498.5 602.7L1498.8 590.3L1498.8 597.6L1499.2 589L1499.3 601.2L1499.4 591.5L1499.4 593.3L1499.6 610L1499.7 588.5L1500 595.3L1500 595.9L1500.4 608.6L1500.6 585.4L1500.6 592L1500.7 606L1500.7 590.6L1501.2 598.9L1501.2 602.7L1501.4 607.3L1501.4 586L1501.8 596.9L1501.8 588.9L1502.2 603.8L1502.4 587L1502.4 595.5L1502.4 600.4L1502.4 582.8L1502.6 609.4L1503 594.6L1503 589.8L1503.1 606.3L1503.2 588.9L1503.6 598.8L1503.6 595.7L1503.8 609.3L1504 591.3L1504.2 599.4L1504.2 607L1504.5 590.2L1504.7 607.2L1504.8 591.2L1504.8 598.7L1504.9 591.5L1505.1 611.2L1505.4 604.5L1505.4 602L1505.5 586L1505.6 606.5L1506 595L1506 597.4L1506.1 587L1506.1 611.7L1506.6 609.4L1506.6 597.2L1506.7 607.4L1507 588.3L1507.2 596.4L1507.2 606.6L1507.4 589.2L1507.7 612.1L1507.8 598.7L1507.8 597.5L1507.9 588.5L1507.9 609.5L1508.4 605.9L1508.4 605.4L1508.5 606.3L1508.7 586.8L1509 589.9L1509 615.5L1509.1 590L1509.6 594.7L1509.6 608.4L1509.8 611.2L1509.9 586.6L1510.2 601.1L1510.2 604L1510.6 613.2L1510.7 593.1L1510.8 600.8L1510.8 606.9L1510.9 607.1L1511 593.6L1511.4 597.6L1511.4 604.9L1511.7 587.1L1511.8 612.2L1512 595.5L1512 603.2L1512.2 614L1512.4 593.2L1512.6 598.6L1512.6 598.3L1512.7 593L1513.1 615.4L1513.2 602.7L1513.2 600.1L1513.3 596.4L1513.6 609L1513.8 604.7L1513.8 603.3L1514.1 589.7L1514.4 614.1L1514.4 598.5L1514.4 605.5L1514.5 614.8L1514.6 594.9L1515 609L1515 605.1L1515.3 592.4L1515.5 614.6L1515.6 602.5L1515.6 610.4L1515.7 591.9L1515.9 614.2L1516.2 603.4L1516.2 600.2L1516.5 592.8L1516.6 609.8L1516.8 593.4L1516.8 599.2L1517.1 594.7L1517.4 610.8L1517.4 605.5L1517.4 605.7L1517.9 612.2L1517.9 596.5L1518 608.7L1518 608.2L1518.2 598.5L1518.3 610.9L1518.6 609.1L1518.6 599.3L1518.6 594.3L1519 614.9L1519.2 611L1519.2 597.7L1519.4 617.2L1519.8 609.6L1519.8 606.1L1519.8 592.4L1520 610.6L1520.4 606.3L1520.4 606.6L1520.6 613.7L1520.9 596.6L1521 604.1L1521 606.4L1521.2 618.6L1521.4 593.8L1521.6 607.7L1521.6 614.6L1521.6 593.1L1522 619.1L1522.2 606.7L1522.2 603.2L1522.4 618.7L1522.5 598.5L1522.8 609L1522.8 611.8L1523.1 599.9L1523.3 614.6L1523.4 610.5L1523.4 616.2L1523.8 600.6L1524 603.2L1524 606.7L1524 600.5L1524.2 615.2L1524.6 602.2L1524.6 610.2L1524.9 593.4L1525.2 615.7L1525.2 613.7L1525.2 606.9L1525.3 620.8L1525.5 600.9L1525.8 606.8L1525.8 612.9L1526 601.5L1526.3 618.3L1526.4 607.2L1526.4 616.4L1526.5 594.1L1526.6 621.3L1527 604.9L1527 610.7L1527.1 621.5L1527.4 601.2L1527.6 602.6L1527.6 619L1528.1 601.5L1528.2 613.2L1528.2 617.6L1528.3 600.6L1528.8 615L1528.8 616.2L1528.9 619.5L1529 596.4L1529.4 603.1L1529.4 609.3L1529.5 600L1529.6 622L1530 612.2L1530 616.1L1530.2 597L1530.4 620.1L1530.6 610.7L1530.6 611.9L1530.8 603.7L1531 624.6L1531.2 621.8L1531.2 607.6L1531.3 619.5L1531.3 604.4L1531.8 615.7L1531.8 614.6L1532 602.4L1532.3 622.7L1532.4 615.4L1532.4 614.4L1532.6 621.6L1532.8 603.9L1533 609.9L1533 620.4L1533.2 601.6L1533.4 621.4L1533.6 616.6L1533.6 604.6L1533.6 600L1534.1 622.6L1534.2 620.9L1534.2 614.7L1534.7 624.6L1534.8 605.8L1534.8 613.6L1535 623.6L1535.1 603.5L1535.4 612.2L1535.4 612.6L1535.8 624L1536 603.1L1536 615.9L1536 622.8L1536.1 601L1536.6 612.1L1536.6 618L1536.8 603.1L1536.8 620.8L1537.2 610L1537.2 617L1537.2 606.5L1537.7 621.3L1537.8 613.3L1537.8 617.3L1538.2 623.1L1538.2 602.9L1538.4 616.2L1538.4 612.1L1538.5 608.8L1538.5 624.6L1539 621L1539 612.5L1539.3 603.3L1539.5 623L1539.6 615.7L1539.6 618.8L1540.2 625.8L1540.2 607.5L1540.2 606.7L1540.4 606.3L1540.4 625.8L1540.8 613L1540.8 622.8L1541.4 627.5L1541.4 603.2L1541.4 618L1541.6 627.3L1541.9 608.4L1542 618.5L1542 627.8L1542.2 630.3L1542.5 606.8L1542.6 629.2L1542.6 621.7L1542.7 623.8L1543.1 605.6L1543.2 617.1L1543.2 617.1L1543.6 612L1543.7 626.4L1543.8 616.9L1543.8 621.5L1544 607L1544.2 627.4L1544.4 618.3L1544.4 606.7L1544.6 627.7L1545 610.9L1545 625.3L1545 629.1L1545.6 607.3L1545.6 617L1545.6 621.1L1545.8 625.7L1546 607.8L1546.2 611.2L1546.2 612.2L1546.3 608.1L1546.6 625.8L1546.8 620.4L1546.8 624.4L1547 604.4L1547.2 625.5L1547.4 613.7L1547.4 612.5L1547.6 626.8L1548 611.4L1548 619.3L1548 617.5L1548.1 627.9L1548.5 612.7L1548.6 621.4L1548.6 621.5L1548.9 611L1549.1 629L1549.2 620.7L1549.2 614.1L1549.3 631L1549.5 610.5L1549.8 613.7L1549.8 626.4L1550 630.5L1550.2 608.2L1550.4 614.6L1550.4 611.7L1550.7 635.8L1551 614.7L1551 619.5L1551.5 629.8L1551.6 612.4L1551.6 625.9L1551.6 625.9L1551.9 630.8L1552 610.1L1552.2 625.9L1552.2 626.9L1552.3 637.3L1552.4 608.9L1552.8 622.4L1552.8 623.5L1553.3 610.6L1553.3 635.8L1553.4 623L1553.4 617.9L1553.4 632.2L1553.7 611.7L1554 623.8L1554 623.1L1554.4 632.7L1554.6 610.1L1554.6 614.7L1554.6 620.6L1554.7 636.4L1555.1 612.2L1555.2 616.2L1555.2 623.1L1555.4 609.6L1555.7 633.8L1555.8 618.6L1555.8 623.6L1555.8 630.4L1556.2 613.8L1556.4 619.6L1556.4 621.4L1556.5 632.7L1556.5 610.2L1557 628.2L1557 629.4L1557 614.5L1557.2 631.6L1557.6 625.8L1557.6 619.7L1558.1 614.9L1558.2 632.5L1558.2 628.5L1558.3 610L1558.6 632.8L1558.8 624L1558.8 626.5L1559.3 637.3L1559.4 613.9L1559.4 621.4L1559.4 625.1L1559.4 617.3L1559.9 631.5L1560 625L1560 620.8L1560.1 636L1560.3 616.7L1560.6 625.1L1560.6 627.3L1560.7 630.6L1561 615.9L1561.2 623.1L1561.2 612.9L1561.5 635.5L1561.8 619.5L1561.8 621.5L1562 634.1L1562.1 617.6L1562.4 630.7L1562.4 631.3L1562.6 616.2L1562.9 633.3L1563 622.9L1563 629.7L1563.3 615.5L1563.6 637.8L1563.6 631.7L1563.6 628.6L1563.9 640.1L1564 620.7L1564.2 626.5L1564.2 625.7L1564.5 614.6L1564.6 638.3L1564.8 630.1L1564.8 624.5L1565.3 614.7L1565.4 635L1565.4 629.6L1565.4 612.9L1565.7 637.8L1566 631.2L1566 630.1L1566.4 617.2L1566.6 636.6L1566.6 631.9L1566.6 629.7L1566.8 615.1L1566.8 633.6L1567.2 624.2L1567.2 628L1567.6 638.1L1567.7 618.6L1567.8 631.9L1567.8 633.9L1568 618.6L1568.1 636.6L1568.4 622.2L1568.4 628.9L1568.6 639.3L1568.8 614.1L1569 631.9L1569 624.2L1569.4 635.8L1569.5 618.1L1569.6 625.4L1569.6 627.8L1569.8 639.6L1570.1 620.9L1570.2 623.4L1570.2 625.6L1570.3 616.3L1570.7 639.5L1570.8 631.3L1570.8 627.6L1571.4 638.4L1571.4 623.6L1571.4 629.4L1571.4 640.3L1571.6 618.7L1572 629.5L1572 627.9L1572 618.8L1572.4 647.4L1572.6 635.6L1572.6 620.3L1572.7 617.9L1572.9 636.4L1573.2 627.2L1573.2 626.6L1573.4 640.6L1573.7 619.6L1573.8 633.4L1573.8 621.4L1574.1 639.2L1574.2 618.8L1574.4 631.8L1574.4 622.4L1574.7 640.5L1575 632.7L1575 644.7L1575.4 618.6L1575.6 637.5L1575.6 629.7L1575.9 637.9L1576 619.5L1576.2 631.6L1576.2 625.4L1576.3 619.9L1576.4 639.5L1576.8 633.5L1576.8 624.1L1576.8 640.1L1577.2 620.8L1577.4 621.7L1577.4 634.5L1577.6 620.1L1577.9 637.6L1578 636.6L1578 633.7L1578.2 640.5L1578.3 617.7L1578.6 619.9L1578.6 632.6L1578.9 643.2L1579 622.6L1579.2 635.1L1579.2 622.7L1579.5 617.4L1579.7 640.5L1579.8 627.2L1579.8 627.3L1579.8 640.3L1580.4 620.8L1580.4 630.3L1580.4 626.4L1580.6 622.5L1580.8 639L1581 632.7L1581 627.3L1581.5 622.2L1581.6 644.7L1581.6 624.1L1581.6 622.4L1581.9 622L1582.1 642.4L1582.2 627.2L1582.2 638L1582.5 640.3L1582.7 624.2L1582.8 630L1582.8 640.4L1582.9 623.7L1583.3 643.9L1583.4 628.4L1583.4 632.4L1583.9 642.1L1583.9 624.1L1584 627.9L1584 636.5L1584.2 639.3L1584.3 624.7L1584.6 638.8L1584.6 632.1L1584.7 620.3L1584.8 645.8L1585.2 625.2L1585.2 637.3L1585.6 619.1L1585.6 645.4L1585.8 623.1L1585.8 634.3L1586.2 623.8L1586.2 641.4L1586.4 626.7L1586.4 629.7L1586.7 643.2L1586.7 624.3L1587 625L1587 628.4L1587 643.1L1587.3 621.9L1587.6 635.5L1587.6 637.7L1587.7 621.5L1588.2 639.5L1588.2 632.4L1588.2 640.7L1588.2 625.9L1588.5 643.4L1588.8 635L1588.8 630.1L1589 639.1L1589.4 625.1L1589.4 632.3L1589.6 623.9L1589.9 646.8L1590 635.3L1590 629.9L1590.1 624.5L1590.5 644.4L1590.6 635.3L1590.6 637.1L1590.8 644.6L1591.1 626.2L1591.2 633.6L1591.2 637.2L1591.5 620.8L1591.6 643.3L1591.8 631.7L1591.8 634.2L1592.3 644.3L1592.4 624.7L1592.4 637.1L1592.6 645.6L1592.7 626.8L1593 631.1L1593 632.9L1593.1 649.8L1593.3 625.6L1593.6 641.9L1593.6 631.8L1593.7 622.8L1594.2 651.3L1594.2 627.2L1594.7 644.2L1594.8 622.1L1594.8 635L1594.8 633.8L1595.2 650.3L1595.3 624.4L1595.4 636L1595.4 641.1L1595.9 623.6L1595.9 645.9L1596 642.9L1596 633.9L1596.4 645.5L1596.5 623.8L1596.6 634.2L1596.6 641.7L1596.7 644.6L1596.7 619.8L1597.2 627.5L1597.2 639.6L1597.5 647.7L1597.7 625.7L1597.8 637L1597.8 639.6L1597.9 623.5L1598.1 644L1598.4 640.1L1598.4 630.1L1598.5 627.6L1598.9 643.6L1599 638.2L1599 631.2L1599.2 644.5L1599.2 627.8L1599.6 643L1599.6 636.9L1599.9 645.9L1600.1 629.5L1600.2 632.1L1600.2 637.4L1600.3 629.3L1600.4 646.4L1600.8 642.1L1600.8 643.9L1601 646.1L1601.1 626.6L1601.4 636.5L1601.4 635L1601.6 627.7L1601.8 650.5L1602 640L1602 640.6L1602.2 626.1L1602.2 649.7L1602.6 637L1602.6 635.4L1602.8 643.8L1603 625.8L1603.2 637.5L1603.2 636.7L1603.4 625L1603.5 646.1L1603.8 640.3L1603.8 633.8L1603.8 629.6L1604.3 647.2L1604.4 634.8L1604.4 637.2L1605 626.8L1605 645L1605 632.7L1605.2 649.6L1605.3 627.2L1605.6 641L1605.6 637.6L1605.9 628.2L1606.1 646.6L1606.2 642.5L1606.2 631.8L1606.5 649L1606.7 627.3L1606.8 635L1606.8 631.7L1607.1 648.2L1607.4 627.2L1607.4 633.2L1607.4 638.2L1607.8 627.5L1607.8 645.2L1608 634.1L1608 631.9L1608.3 624.8L1608.4 648.7L1608.6 635.5L1608.6 639.7L1608.8 628.4L1609.1 646.3L1609.2 642.3L1609.2 639.6L1609.6 646.7L1609.7 628.1L1609.8 645.1L1609.8 636.4L1609.9 628.8L1610.2 647.2L1610.4 641.5L1610.4 635.7L1610.8 629.7L1610.9 646.1L1611 636.6L1611 634.1L1611.2 627.7L1611.5 648.3L1611.6 631.2L1611.6 640.2L1611.7 626.6L1612.1 652.2L1612.2 634.2L1612.2 636.2L1612.4 629.3L1612.7 648.4L1612.8 633.8L1612.8 643.6L1612.9 628.6L1613.1 647L1613.4 640.2L1613.4 639.5L1613.6 648L1613.9 625.5L1614 635.9L1614 641.4L1614 649.3L1614.4 624.7L1614.6 636.2L1614.6 639.4L1614.8 648.4L1615 627.4L1615.2 638.1L1615.2 643L1615.3 650.4L1615.3 626.5L1615.8 638.3L1615.8 639.2L1616 626.5L1616.1 645.8L1616.4 634.7L1616.4 635.4L1616.6 649.6L1616.9 625.6L1617 640.7L1617 640.1L1617.1 645.9L1617.5 627.9L1617.6 634.7L1617.6 636.7L1617.8 646.8L1617.8 625L1618.2 628.4L1618.2 638L1618.5 627L1618.7 646.5L1618.8 633.5L1618.8 646.5L1619.3 621.9L1619.4 633.5L1619.4 637.4L1619.8 625.6L1619.9 643.8L1620 634L1620 638L1620.2 621.4L1620.5 645.5L1620.6 629L1620.6 630.6L1620.9 644.5L1620.9 622.2L1621.2 625.5L1621.2 644L1621.4 644.1L1621.7 621.5L1621.8 627.9L1621.8 634.5L1621.8 624.8L1622 642.8L1622.4 638.4L1622.4 625L1622.5 643L1623 637.4L1623 625.9L1623.2 624.4L1623.3 642.8L1623.6 642.6L1623.6 635.8L1623.9 644.8L1624.2 625.8L1624.2 631.9L1624.2 639.3L1624.4 623L1624.5 647.3L1624.8 633.5L1624.8 631L1625.1 622.8L1625.3 642.4L1625.4 625.6L1625.4 633L1625.5 643L1625.5 626L1626 628.3L1626 634.8L1626.2 645.1L1626.6 623L1626.6 641L1626.7 646.2L1626.8 623.5L1627.2 631.4L1627.2 630.7L1627.5 624.2L1627.7 640.6L1627.8 633.6L1627.8 636.2L1627.8 617.9L1628.1 644.1L1628.4 635.4L1628.4 631.4L1628.4 645L1628.5 621.5L1629 631.3L1629 633.6L1629.3 621.5L1629.4 640.9L1629.6 630.9L1629.6 637.1L1629.8 619.9L1630 644.9L1630.2 627.8L1630.2 629.8L1630.5 620.2L1630.7 644.3L1630.8 636.7L1630.8 627.9L1631.1 644.8L1631.1 621.9L1631.4 630.3L1631.4 631.5L1631.8 644.9L1631.8 624.5L1632 625.7L1632 636.4L1632.4 641.4L1632.6 620.5L1632.6 631.9L1632.6 629.7L1632.8 620.3L1632.9 640.5L1633.2 637.6L1633.2 629.6L1633.4 643.1L1633.8 621.5L1633.8 622.4L1633.8 628.5L1634.1 641.1L1634.1 620.2L1634.4 632L1634.4 632L1634.6 640.3L1634.7 620.5L1635 627.1L1635 638.1L1635.2 621.6L1635.2 642.1L1635.6 629.8L1635.6 622.1L1635.7 638.3L1636.1 618.7L1636.2 632.7L1636.2 635.5L1636.3 638L1636.3 617.7L1636.8 631.4L1636.8 631.3L1637.2 619.2L1637.4 640.6L1637.4 621.6L1637.4 624.6L1637.5 619.2L1637.7 639.6L1638 629.4L1638 626.1L1638.2 637.1L1638.4 615.7L1638.6 623.1L1638.6 625L1638.8 617.1L1639 636.8L1639.2 627.5L1639.2 634L1639.5 618L1639.5 639.8L1639.8 620.6L1639.8 621.3L1640 636.5L1640.1 616.9L1640.4 628.4L1640.4 619L1640.4 639.5L1640.5 617.4L1641 619.1L1641 627.4L1641.1 613.5L1641.2 635.3L1641.6 627.9L1641.6 624.9L1641.7 634.1L1641.8 611.7L1642.2 618L1642.2 625.1L1642.6 615.5L1642.8 633.8L1642.8 627.3L1642.9 634.1L1643.2 612.8L1643.4 620.9L1643.4 628.1L1643.8 633.8L1644 612.9L1644 625L1644 617.4L1644.2 611L1644.4 634.8L1644.6 624L1644.6 618.3L1644.7 613.1L1644.9 633.4L1645.2 624.4L1645.2 618.1L1645.5 613.2L1645.6 630.9L1645.8 618L1645.8 631.9L1645.8 611L1646.4 622.6L1646.4 619.4L1646.6 629L1646.7 606.4L1647 621.9L1647 622.2L1647.1 630.1L1647.3 611L1647.6 626.6L1647.6 623.7L1648 630.5L1648 608.4L1648.2 619.6L1648.2 619.5L1648.3 629.8L1648.3 607.3L1648.8 616.1L1648.8 621L1649.1 605.4L1649.3 627.7L1649.4 611.5L1649.4 615.9L1649.7 628L1649.8 606L1650 618.4L1650 623.7L1650.3 627.7L1650.5 607.1L1650.6 616.2L1650.6 617L1650.7 627.4L1651.1 604.3L1651.2 619.8L1651.2 624.4L1651.2 603L1651.8 609.2L1651.8 617.4L1652.3 625L1652.3 601.2L1652.4 608.4L1652.4 613.6L1652.5 623.2L1652.8 600.8L1653 616.3L1653 599.2L1653.5 620.9L1653.6 614.7L1653.6 612.6L1653.7 625.7L1653.9 603L1654.2 609.4L1654.2 613L1654.2 602.8L1654.6 620.6L1654.8 612L1654.8 608.7L1654.9 600.1L1655.1 623.3L1655.4 610.5L1655.4 614.7L1655.8 616.3L1655.9 592.7L1656 607.1L1656 615.1L1656.4 618.5L1656.5 598.5L1656.6 611.1L1656.6 610L1656.6 616.9L1656.6 592.5L1657.2 605.1L1657.2 604.8L1657.3 598.9L1657.4 614.4L1657.4 606.6" fill="none" stroke="#000" stroke-width="6" stroke-linecap="square" stroke-linejoin="round"/>
<path d="M1586.5 640L1586.5 682.6" fill="none" stroke="#000" stroke-width="6" stroke-linecap="round" stroke-linejoin="round"/>
<path d="M1617.2 613L1617.2 671.7" fill="none" stroke="#000" stroke-width="6" stroke-linecap="round" stroke-linejoin="round"/>
<path d="M1657.3 597L1657.3 675.6" fill="none" stroke="#000" stroke-width="6" stroke-linecap="round" stroke-linejoin="round"/>
<path d="M1046.6 714.9V10.9" stroke="#000" stroke-width="6" fill="none" stroke-dasharray="6 9.86"/>
<path d="M312.5 43L408.8 52.6L465.1 61.2L505.1 66L536.1 71.3L561.4 79.4L582.8 86.8L601.4 93.1L617.8 100.8L632.4 105.9L645.6 109.4L657.7 108L668.9 113.1L679.1 116.7L688.7 116.3L697.7 123L706.1 119.1L714.1 119.8L721.6 122.6L728.7 124.6L735.5 125L741.9 129.3L748.1 129L754 129.8L759.7 134.3L765.1 134.6L770.4 136.2L775.4 137.5L780.3 141.8L785 137.8L789.6 137L794 136.7L798.3 139.9L802.4 143.4L806.4 149L810.4 151.4L814.2 153L817.9 153.8L818.4 154.5L823 149.2L826.5 149.9L829.2 158.4L832.2 158L836.1 153.8L839.5 158.7L843 158.4L845.6 154.1L849.1 156.8L851.8 162.2L855.2 163.3L859 161.8L862.5 166L865.2 162.2L868.2 158.4L872.8 158.7L877.8 155.7L880.9 159.9L882.8 166L885.5 167.9L888.9 161.8L892.4 163.7L895.8 166L898.1 171.8L900.8 171.4L905.8 159.5L908.9 166L911.1 171.8L915 176L918.8 166.8L921.5 166.4L924.9 172.9L926.4 177.4L928.1 166.3L929.7 176.2L931.3 173.7L933 171.1L934.5 182L936.1 177.4L937.7 170L939.2 175.5L940.7 177.9L942.2 175.2L943.7 179L945.2 176.5L946.6 179.9L948.1 183.4L949.5 175.3L950.9 179.3L952.3 177L953.7 179.8L955.1 174.9L956.4 177.8L957.7 179.7L959.1 184.6L960.4 186L961.7 176.2L963 178.7L964.3 184.9L965.5 174.4L966.8 181L968 182.8L969.3 188.7L970.5 186.7L971.7 182.8L972.9 182.9L974.1 183.7L975.3 191.3L976.5 183.6L977.6 184.5L978.8 187.6L979.9 186.1L981.1 186.1L982.2 182.7L983.3 187.7L984.4 186.2L985.5 193.3L986.6 191.5L987.7 189.1L988.8 192.3L989.8 188.5L990.9 194.6L991.9 190.5L993 193.2L994 185.6L995 192.7L996 184.4L997 183.1L998.1 190.6L999 188.3L1000 193L1001 201.9L1002 189.2L1003 190.3L1003.9 194L1004.9 195.4L1005.8 192.8L1006.8 192.9L1007.7 196.9L1008.6 196.4L1009.6 190.1L1010.5 194.3L1011.4 195L1012.3 190.6L1013.2 196.4L1014.1 191.9L1015 199.8L1015.9 196.7L1016.7 196.5L1017.6 193.9L1018.5 196.1L1019.3 188.4L1020.2 192.2L1021 198.7L1021.9 188.4L1022.7 201.2L1023.5 190.5L1024.4 201.2L1025.2 194.7L1026 201.7L1026.8 199.2L1027.6 192.4L1028.5 204.4L1029.3 205.4L1030 199.2L1030.8 198.6L1031.6 199.3L1032.4 196L1033.2 205L1034 198.3L1034.7 200.5L1035.5 197.6L1036.3 198.5L1037 196L1037.8 206.8L1038.5 201.1L1039.3 206L1040 202.2L1040.7 199.3L1041.5 201L1042.2 200.2L1042.9 202.7L1043.6 201.3L1044.4 201.7L1045.1 197.3L1045.8 199.9L1046.5 210.4L1047.2 200.8L1047.9 199.3L1048.6 205.3L1049.3 210L1050 198L1050.7 203.4L1051.4 201.8L1052 197.1L1052.7 207.8L1053.4 204.8L1054 205.3L1054.7 201.9L1055.4 207.2L1056 203.1L1056.7 204.9L1057.3 201L1058 200.6L1058.6 211.6L1059.3 203.9L1059.9 207.4L1060.6 206.2L1061.2 204.6L1061.8 204.4L1062.5 209.4L1063.1 205.5L1063.7 206.3L1064.3 207.2L1065 212.2L1065.6 210.3L1066.2 209.2L1066.8 205.4L1067.4 202.1L1068 212.1L1068.6 212.4L1069.2 207.8L1069.8 210.9L1070.4 212.1L1071 212.5L1071.6 213L1072.2 207.4L1072.8 215.9L1073.3 204.3L1073.9 213.4L1074.5 212L1075.1 213.8L1075.7 218.2L1076.2 216.7L1076.8 205.7L1077.4 203.6L1077.9 214.4L1078.5 206.8L1079 211.2L1079.6 215L1080.2 204.6L1080.7 202.8L1081.3 213L1081.8 212.2L1082.4 211.1L1082.9 212.5L1083.4 208.8L1084 206.1L1084.5 212L1085 208.7L1085.6 206L1086.1 215.2L1086.6 212.9L1087.2 215.1L1087.7 209.3L1088.2 210.8L1088.7 209.5L1089.3 210.1L1089.8 214.8L1090.3 210.8L1090.8 215.7L1091.3 215.8L1091.8 223.1L1092.3 208.7L1092.8 218.5L1093.3 214.4L1093.8 214.9L1094.3 208.9L1094.8 213.2L1095.3 218.5L1095.8 215.1L1096.3 215.9L1096.8 214.4L1097.3 220.7L1097.8 215.8L1098.3 206.7L1098.8 213.2L1099.3 207.9L1099.7 202.6L1100.2 214.3L1100.7 222.3L1101.2 217L1101.7 212L1102.1 213.1L1102.6 222L1103.1 218L1103.5 217.7L1104 217.4L1104.5 217.9L1104.9 221.3L1105.4 220.3L1105.9 219L1106.3 213.8L1106.8 220.5L1107.2 215.6L1107.7 223.3L1108.1 213.3L1108.6 218.3L1109 219L1109.5 213.5L1109.9 226.6L1110.4 225.6L1110.8 217.5L1111.3 222.9L1111.7 221.4L1112.1 208.7L1112.6 221.1L1113 219.9L1113.5 220.6L1113.9 215.8L1114.3 219.3L1114.8 219.8L1115.2 225.8L1115.6 222.3L1116.1 220.9L1116.5 227.6L1116.9 218.8L1117.3 219.6L1117.8 213.7L1118.2 228.2L1118.6 225.7L1119 225.6L1119.4 224.7L1119.8 222.4L1120.3 222.9L1120.7 221L1121.1 221.4L1121.5 222.6L1121.9 228.9L1122.3 224.9L1122.7 222.4L1123.1 220.3L1123.5 220.1L1123.9 229.8L1124.3 225.2L1124.8 223.4L1125.2 221.8L1125.6 218.6L1125.9 223.2L1126.3 227.3L1126.7 222L1127.1 222.8L1127.5 222.9L1127.9 224.4L1128.3 217.2L1128.7 223.1L1129.1 220.6L1129.5 228.1L1129.9 221.1L1130.3 227L1130.6 231.1L1131 223.4L1131.4 222.2L1131.8 225.7L1132.2 225L1132.6 220.9L1132.9 227.2L1133.3 233.9L1133.7 224.3L1134.1 224.7L1134.4 221.2L1134.8 227.1L1135.2 220.6L1135.6 221.3L1135.9 231.6L1136.3 222.4L1136.7 231L1137 233L1137.4 227.8L1137.8 229.2L1138.1 235.3L1138.5 226.2L1138.9 224.6L1139.2 221.5L1139.6 227.6L1139.9 233.8L1140.3 231.8L1140.7 223.8L1141 224.2L1141.4 225.9L1141.7 229.4L1142.1 227.4L1142.4 229.3L1142.8 229.8L1143.2 227.3L1143.5 228.6L1143.9 229.7L1144.2 228.6L1144.6 231.3L1144.9 237.2L1145.2 231.9L1145.6 229.7L1145.9 222.4L1146.3 231.4L1146.6 221.5L1147 223.9L1147.3 233.7L1147.7 233.2L1148 229.6L1148.3 223.1L1148.7 228.9L1149 227.7L1149.3 233.5L1149.7 240.5L1150 231.9L1150.3 227.7L1150.7 226.2L1151 231.1L1151.3 230.7L1151.7 226.7L1152 232.3L1152.3 227L1152.7 236.8L1153 236.8L1153.3 237L1153.6 230.5L1154 234.8L1154.3 232.2L1154.6 231.3L1154.9 231.6L1155.3 227.7L1155.6 227.2L1155.9 236.9L1156.2 232.8L1156.6 234.7L1156.9 238.2L1157.2 226.7L1157.5 230.9L1157.8 235.1L1158.1 236.2L1158.5 233L1158.8 239.2L1159.1 235.8L1159.4 229.9L1159.7 231.2L1160 238.8L1160.3 237.4L1160.6 227.5L1161 241.5L1161.3 238.4L1161.6 241.8L1161.9 234.5L1162.2 235L1162.5 231.6L1162.8 247.4L1163.1 235.9L1163.4 243.6L1163.7 234.2L1164 237.8L1164.3 230.1L1164.6 235.7L1164.9 241.7L1165.2 232.3L1165.5 242.3L1165.8 239.3L1166.1 233.5L1166.4 236L1166.7 236.3L1167 238.2L1167.6 235.1L1167.9 237.5L1168.2 234.5L1168.5 233.5L1168.8 238.9L1169.1 242.9L1169.4 232.7L1169.6 239.4L1169.9 236.6L1170.2 235.3L1170.5 243.3L1170.8 237.5L1171.1 246.2L1171.4 236.5L1171.7 241.6L1172 239.1L1172.2 236.9L1172.5 242.7L1172.8 239.6L1173.1 243L1173.4 240.3L1173.7 235.9L1173.9 240.2L1174.2 241L1174.5 244.9L1174.8 237L1175.1 240.8L1175.3 233.7L1175.6 244L1175.9 236.6L1176.2 233.6L1176.5 241.2L1176.7 246.2L1177 235.1L1177.3 237L1177.6 238.6L1177.8 237L1178.1 243.6L1178.4 238.5L1178.7 239L1178.9 244.7L1179.2 239L1179.5 244.2L1179.7 238.3L1180 237.3L1180.3 234.7L1180.5 250.7L1180.8 241.4L1181.1 243.9L1181.3 242.8L1181.6 243.7L1181.9 243.3L1182.1 251.4L1182.4 238.8L1182.7 236.6L1182.9 239.1L1183.2 237.8L1183.7 247.2L1184 239.6L1184.3 237.8L1184.5 242.4L1184.8 249.9L1185 231.9L1185.3 246.4L1185.6 239.6L1185.8 248.8L1186.1 239.7L1186.3 243.2L1186.6 238.1L1186.8 240.4L1187.1 250.6L1187.4 248.3L1187.6 243.1L1187.9 241.2L1188.1 236.9L1188.4 243.4L1188.6 245L1188.9 244.9L1189.1 244.9L1189.4 240.6L1189.6 245.2L1189.9 245.4L1190.4 253.7L1190.6 245.2L1190.9 242.5L1191.1 245.6L1191.4 243.4L1191.6 242.9L1191.9 245.9L1192.1 241.7L1192.4 248.9L1192.6 245.9L1192.9 247.5L1193.4 243.4L1193.6 242.6L1193.9 245.7L1194.1 244.4L1194.3 247.9L1194.6 246.9L1194.8 241.2L1195.1 247.4L1195.3 241.4L1195.6 244.6L1195.8 246L1196 238.5L1196.3 247.8L1196.5 248.2L1197 245.8L1197.2 246.1L1197.5 243.6L1197.7 246.7L1198 245.6L1198.2 248.4L1198.4 242.9L1198.7 249.2L1198.9 248.9L1199.4 246.5L1199.6 250.8L1199.8 241.4L1200.1 250.6L1200.3 249.7L1200.5 250L1200.8 250.5L1201 246.1L1201.2 247.8L1201.5 251.8L1201.7 250.9L1201.9 250L1202.2 242.7L1202.4 251.6L1202.6 254.4L1202.8 253.7L1203.1 250.5L1203.3 242.9L1203.5 253.6L1203.8 249L1204 238.9L1204.2 251.4L1204.4 243.5L1204.7 244.4L1204.9 247.3L1205.1 255.5L1205.3 248.5L1205.6 251.3L1205.8 257.7L1206 257.1L1206.5 249.4L1206.7 245.1L1207.1 252.4L1207.3 252.3L1207.6 251.2L1207.8 255L1208 247.5L1208.2 250.6L1208.4 254.1L1208.7 253.5L1208.9 255.6L1209.1 252.8L1209.3 249.9L1209.5 252.8L1209.8 247L1210 244.4L1210.2 253.9L1210.4 251.2L1210.6 252.8L1210.8 244.4L1211.1 250.1L1211.3 249.2L1211.5 248.1L1211.7 242.3L1211.9 250.5L1212.1 255.7L1212.6 249.5L1212.8 252.1L1213 255.4L1213.2 240.5L1213.6 254.6L1213.8 255.3L1214.1 259.7L1214.3 257.3L1214.5 253.9L1214.9 256L1215.1 250.5L1215.5 256.7L1215.7 261.2L1215.9 252.3L1216.1 252.8L1216.4 253.9L1216.6 258.8L1216.8 253.1L1217 259.5L1217.2 249.2L1217.4 252.6L1217.6 252.6L1217.8 256.8L1218 257.9L1218.2 247.2L1218.4 249.8L1218.6 255.1L1219 247.4L1219.2 258.2L1219.4 256L1219.6 256.1L1219.8 252.1L1220 258.5L1220.2 253.2L1220.4 258.9L1220.6 250.6L1220.8 250.9L1221 255.4L1221.3 251.7L1221.5 257.6L1221.7 255.9L1221.9 251.1L1222.1 255.3L1222.2 253.6L1222.4 259L1222.6 252.6L1222.8 253.5L1223.2 264.9L1223.4 264L1223.6 256L1223.8 256.7L1224 262.3L1224.4 252L1224.6 256.6L1224.8 258.1L1225 252.8L1225.2 249.5L1225.6 259.3L1225.8 253.5L1226 256.1L1226.4 259.4L1226.6 255.6L1226.8 259.1L1226.9 253.4L1227.1 255.7L1227.3 253L1227.5 262.1L1227.7 257.3L1227.9 254.5L1228.1 256.1L1228.3 256.8L1228.5 260.7L1228.7 251.2L1228.9 253.6L1229.2 268.6L1229.4 262.2L1229.6 257.8L1230 267L1230.2 257.5L1230.4 257.1L1230.6 263.7L1230.7 260.8L1230.9 261.6L1231.1 256.8L1231.3 267L1231.7 261.5L1231.9 262.1L1232 250.9L1232.2 262L1232.4 258.7L1232.8 262.5L1233 258.3L1233.2 252.8L1233.3 261.4L1233.5 256.9L1233.7 258.7L1233.9 257.6L1234.1 258.8L1234.3 250.7L1234.4 265.4L1234.6 261.5L1234.8 265.1L1235 268.7L1235.3 253.3L1235.5 257.1L1235.7 255.9L1235.9 258.9L1236.1 261.4L1236.2 252.9L1236.4 262.6L1236.6 255.1L1236.8 262.6L1237.1 260.2L1237.3 261.3L1237.7 259.3L1237.9 255L1238.4 270.4L1238.6 267.8L1238.9 259.7L1239.1 268.5L1239.3 262.5L1239.5 262.5L1239.6 261.7L1239.8 263.4L1240 261.3L1240.2 262.9L1240.3 258.8L1240.7 272.8L1240.9 263.3L1241 262.7L1241.4 266.8L1241.5 259.4L1241.9 267.9L1242.1 265.4L1242.4 270.8L1242.6 261.8L1242.8 265L1242.9 262.6L1243.1 270.9L1243.3 256.9L1243.8 267.9L1243.9 267.8L1244.1 271.1L1244.3 259.1L1244.5 268.6L1244.8 263L1245 268.1L1245.1 262.2L1245.3 257.6L1245.5 264.6L1245.6 260.1L1246 267.9L1246.1 267.8L1246.3 273.1L1246.6 260.5L1246.8 263.8L1247.1 262.1L1247.3 268.9L1247.5 264.6L1247.6 259.3L1247.8 270.3L1248 267.1L1248.1 269.1L1248.3 268.1L1248.5 270.4L1248.6 268L1248.8 273L1249.1 269.7L1249.3 269.9L1249.5 262.4L1249.8 267.5L1249.9 269.4L1250.1 263.2L1250.3 275.4L1250.4 269.3L1250.8 262.1L1250.9 268L1251.1 268.9L1251.2 266.4L1251.4 269.8L1251.6 266.9L1251.7 271.8L1251.9 266.8L1252.1 269.6L1252.2 273.8L1252.4 280.3L1252.5 266L1252.7 268.2L1252.9 266.8L1253 273.5L1253.2 265.8L1253.3 268.5L1253.5 270.4L1253.6 266.7L1254 268.9L1254.1 262.5L1254.6 271.8L1254.8 270.5L1254.9 264.2L1255.1 269.6L1255.2 274.8L1255.7 268.3L1255.9 274.5L1256.2 267.4L1256.3 269L1256.5 278.1L1256.9 270.6L1257.1 276.4L1257.3 270.3L1257.6 282.9L1257.7 276.1L1257.9 271.1L1258.2 274.6L1258.3 278.2L1258.6 266.6L1258.8 272.5L1258.9 273.8L1259.2 279.2L1259.4 275.3L1259.7 269.8L1259.9 277.7L1260 282.7L1260.5 275.2L1260.6 281.8L1260.8 271.1L1261.1 276.8L1261.2 278L1261.4 273.4L1261.7 274.2L1261.8 275.9L1262.1 271L1262.3 275.6L1262.4 279.3L1262.6 272L1262.9 278.7L1263 271.8L1263.5 280.9L1263.6 285.7L1263.9 275.7L1264.2 277.3L1264.3 277.3L1264.5 283.1L1264.6 271.8L1264.8 281.3L1264.9 277L1265.1 282.9L1265.4 274.8L1265.5 278.7L1265.7 280.6L1265.8 277.9L1265.9 279.8L1266.1 275.8L1266.2 269.5L1266.4 281.6L1266.5 280.9L1266.7 278.8L1267 282.5L1267.1 276.7L1267.3 275.8L1267.5 283.5L1267.7 273.3L1267.8 283.6L1268.1 274.7L1268.3 284.2L1268.4 278.9L1268.5 274.2L1269 284.3L1269.1 278L1269.4 282.7L1269.5 277.4L1269.7 281.4L1270 278L1270.1 278.3L1270.2 280.6L1270.5 278.3L1270.7 278.9L1270.8 285L1270.9 281.6L1271.2 285.6L1271.4 283.3L1271.5 290L1271.6 277.9L1271.9 280L1272.1 288.6L1272.3 273.8L1272.5 277.7L1272.6 284.2L1272.8 284.8L1273 281.5L1273.2 283.7L1273.3 284.5L1273.6 286.1L1273.7 273.3L1273.9 284.7L1274 278.2L1274.1 286.1L1274.3 281.5L1274.4 279L1274.5 284L1275 276.6L1275.1 282.7L1275.4 287L1275.5 282.5L1275.6 287.2L1275.9 282.9L1276.2 287.5L1276.3 282.1L1276.7 283.9L1276.8 280.2L1277 287.8L1277.4 280.7L1277.5 285.4L1277.8 282.5L1277.9 292.1L1278 285.7L1278.2 291.3L1278.4 281.9L1278.6 283.1L1278.7 286.3L1279.1 283.7L1279.2 277.8L1279.5 276.4L1279.6 286.5L1279.8 282.3L1279.9 282.4L1280.2 286.4L1280.3 279.8L1280.4 278.6L1280.7 277.6L1280.9 291.9L1281.1 281.7L1281.2 288.4L1281.3 280.6L1281.6 284.8L1281.7 285.9L1282 293.1L1282.1 287.1L1282.2 286.8L1282.4 282.6L1282.8 289.8L1282.9 286.5L1283 293.5L1283.1 279.1L1283.3 285.7L1283.4 290.4L1283.9 281.8L1284 287.7L1284.2 296.8L1284.4 283.1L1284.6 284.1L1284.7 286L1284.8 291.5L1284.9 284.5L1285.2 291.2L1285.3 291.2L1285.7 282.1L1285.8 285.4L1285.9 279.6L1286.1 291.2L1286.3 290.2L1286.4 295.7L1286.7 284.1L1286.9 293.2L1287.1 285.9L1287.4 282.7L1287.6 294.7L1287.7 279.8L1288.2 289.9L1288.3 290.4L1288.6 293.9L1288.7 281.3L1288.8 289.6L1289.2 290.6L1289.3 286.3L1289.4 287.4L1289.9 298L1290 299.1L1290.2 284.6L1290.4 300L1290.5 293.4L1290.6 291.3L1290.9 288.5L1291.1 288.6L1291.3 293.6L1291.6 286.3L1291.7 290.8L1291.9 287.6L1292.1 295.2L1292.3 293.2L1292.5 292.7L1292.8 290.3L1292.9 294.5L1293.1 287.5L1293.2 296.8L1293.5 290L1293.7 289.3L1294 296.5L1294.1 289.2L1294.2 283.5L1294.7 296.5L1294.8 295L1295 287.4L1295.2 299.5L1295.3 293.9L1295.4 292.8L1295.7 302.3L1295.9 293.5L1296 294.4L1296.1 295.5L1296.4 289.2L1296.5 293.5L1296.6 289.7L1296.9 302.4L1297.2 293.2L1297.3 293.1L1297.5 297.8L1297.8 290.8L1297.9 287.7L1298.1 296.1L1298.3 290.3L1298.5 292.8L1298.7 296.3L1298.8 292.1L1298.9 293.5L1299 287.6L1299.3 300.8L1299.4 286.4L1299.6 295.6L1299.7 293.4L1299.8 291.8L1300.1 295L1300.2 294.8L1300.3 288L1300.7 296.2L1300.8 297.8L1301.1 293.6L1301.3 300.1L1301.4 300L1301.5 301L1302 290.8L1302.1 296.8L1302.4 289.6L1302.5 292.8L1302.6 296.2L1302.9 300.1L1303.1 295.8L1303.2 293.4L1303.6 303.4L1303.8 296.7L1303.9 291.2L1304.3 302L1304.4 298L1304.5 291.4L1304.7 302L1305 294.8L1305.1 296.2L1305.5 302.2L1305.6 302.2L1305.7 302.9L1306 292.1L1306.2 299.1L1306.3 296.6L1306.6 294.7L1306.7 303.7L1306.8 300.8L1307.1 302.4L1307.4 289.3L1307.5 296L1307.7 295L1307.9 303.3L1308 297L1308.2 306.6L1308.4 294.4L1308.5 300L1308.7 300.8L1308.9 302.2L1309.1 295.9L1309.2 300.1L1309.3 302.4L1309.4 297.1L1309.7 310.3L1309.8 297.1L1309.9 305L1310.3 303.3L1310.5 304.8L1310.7 297.9L1311 302.5L1311.1 305.6L1311.4 306.2L1311.5 301.2L1311.6 295L1311.9 306.7L1312.1 305.4L1312.2 303.1L1312.3 307.4L1312.7 300.3L1312.8 301.5L1312.9 301.8L1313.2 307.3L1313.3 295L1313.4 302.4L1313.5 298.1L1313.7 304.7L1314 295.8L1314.1 305.9L1314.5 292.3L1314.6 299.2L1314.8 307.9L1315.1 297L1315.2 307.7L1315.3 309.1L1315.6 296.5L1315.7 305.9L1315.8 312.7L1316.2 299.2L1316.3 307.9L1316.4 298.4L1316.7 306.4L1316.9 304.7L1317 300.5L1317.1 298.6L1317.2 303.6L1317.6 298.9L1317.7 301.8L1317.8 296.8L1318.2 305.5L1318.2 311.4L1318.3 298.5L1318.7 303.1L1318.8 310.7L1319.1 299.7L1319.3 305.8L1319.4 299.6L1319.9 307.3L1320 307.2L1320.5 297.4L1320.6 304.4L1320.9 297.5L1321 315.3L1321.1 301.5L1321.2 309.3L1321.3 310.4L1321.6 301.7L1321.8 303.4L1321.9 296.8L1322 316.6L1322.4 311.8L1322.5 312.3L1323 298.6L1323.1 300.6L1323.5 314.2L1323.6 311.9L1323.9 304.5L1324.1 310.8L1324.2 302.9L1324.4 302.8L1324.6 313.7L1324.8 308.7L1324.9 304.6L1325.1 303.5L1325.3 316.8L1325.3 309.9L1325.4 305.6L1325.7 311.3L1325.9 309.5L1326 310.8L1326.3 302.4L1326.6 308.4L1326.7 305.4L1326.9 310.7L1326.9 303.9L1327.1 305.8L1327.2 312L1327.3 315.6L1327.7 304L1327.8 315.1L1327.9 307.3L1328 299.5L1328.1 319.5L1328.3 310.6L1328.4 309.2L1328.6 304.7L1329 314.7L1329.1 310.7L1329.2 319L1329.5 303.6L1329.5 306.1L1329.6 315.5L1330 307.1L1330.2 309.1L1330.3 309.3L1330.4 313.9L1330.6 308L1330.7 312.4L1330.8 311L1331 321.2L1331.4 308.6L1331.5 308.5L1331.6 308.2L1331.8 314.7L1331.9 310.6L1332 311.4L1332.1 307.7L1332.4 318.8L1332.5 317.8L1332.6 311.5L1332.8 322.4L1332.9 308.2L1333.2 314.3L1333.3 315.6L1333.4 317.5L1333.6 309.8L1333.7 310.6L1333.8 310.9L1334.2 308.1L1334.2 320.8L1334.3 317.8L1334.4 316.2L1334.9 307.6L1335 316.6L1335 324.7L1335.1 307.1L1335.6 309.8L1335.7 314.9L1335.9 312.9L1336.2 320.3L1336.3 311.3L1336.4 317.9L1336.7 305.3L1336.8 314.9L1337.1 320.8L1337.2 311L1337.3 320.6L1337.4 315.8L1337.5 321.1L1337.7 312.2L1337.9 319.1L1338 315.7L1338.4 323.1L1338.5 311.8L1338.6 314.3L1338.7 318.8L1339.1 310.2L1339.2 311.6L1339.6 321.2L1339.7 316.8L1339.8 324.7L1340.2 313.9L1340.3 317.4L1340.4 316.5L1340.5 309.9L1340.6 316.6L1340.9 316.2L1341 317.4L1341.4 313.2L1341.5 322.6L1341.6 315.3L1342.1 322.1L1342.2 310.1L1342.3 315.2L1342.4 314.4L1342.7 319.7L1342.8 315.3L1342.9 319.1L1343 316.1L1343.2 324.9L1343.4 316.6L1343.4 318.8L1343.5 315.7L1343.9 323.4L1344 317.5L1344.2 315.7L1344.4 327.4L1344.5 318.2L1344.6 317.8L1344.7 317.7L1345 327.3L1345.2 325.2L1345.3 321.1L1345.3 322.3L1345.8 312.7L1345.8 323.6L1346.3 316.2L1346.4 317.5L1347 325.4L1347.1 317.4L1347.1 326.7L1347.5 315.3L1347.6 316.9L1348 314.2L1348.1 323.6L1348.2 316.8L1348.3 319.6L1348.5 317.2L1348.8 324.3L1348.8 324.3L1349.2 315.3L1349.3 327L1349.4 320.9L1349.5 319.9L1349.9 327.3L1350 327.4L1350.2 328.2L1350.4 320L1350.6 326.1L1350.7 318.7L1351 315.7L1351.1 325.9L1351.2 321L1351.4 315.3L1351.6 327L1351.8 326.4L1351.8 323.2L1352 320.8L1352.2 332.1L1352.4 323.4L1352.5 320.8L1352.6 330.6L1352.8 318.5L1352.9 328.6L1353 327.6L1353.1 328.8L1353.4 319.9L1353.6 322.6L1353.6 333.1L1354.1 321L1354.2 326.6L1354.2 330.2L1354.6 321.7L1354.8 323L1354.9 326.8L1355 329.9L1355.2 320.4L1355.4 327.6L1355.5 329.7L1355.9 318.7L1355.9 329.9L1356 323.8L1356.5 327.9L1356.5 318.6L1356.6 329.3L1357 321.5L1357.1 333.4L1357.1 324L1357.2 327.9L1357.4 332.1L1357.6 324.6L1357.7 324.7L1357.8 326.1L1358.1 335.4L1358.3 324.8L1358.3 330.2L1358.4 323.6L1358.6 332L1358.9 324.6L1359 330L1359.1 320.9L1359.5 330.4L1359.6 327.7L1359.8 323.7L1360.1 332.4L1360.2 332.3L1360.3 334.2L1360.4 325L1360.8 333.2L1360.9 332L1361.3 332.8L1361.4 327.6L1361.4 335.5L1361.8 336.7L1362 325.2L1362 327.2L1362.2 337.3L1362.4 326.4L1362.5 332.3L1362.6 336.3L1363.1 322.2L1363.2 332.5L1363.3 332.3L1363.4 325.8L1363.5 335.7L1363.8 328.9L1363.8 333.6L1363.9 329.9L1364.2 334.8L1364.3 330.5L1364.4 330.1L1364.6 328L1365 338.3L1365.1 336L1365.2 331.3L1365.3 339.1L1365.6 332.8L1365.6 336.6L1365.8 339.1L1366 328.4L1366.2 331.8L1366.3 335.3L1366.3 336.5L1366.5 327.4L1366.8 331.1L1366.8 330L1367.1 337.8L1367.2 325.9L1367.4 334.4L1367.5 329.5L1367.6 329.2L1367.7 335.3L1367.9 332.2L1368 327.7L1368.6 338.7L1368.6 338.3L1369 328.1L1369.2 329.5L1369.3 336.9L1369.7 331.1L1369.8 340L1370 330.2L1370.2 340.5L1370.4 332.4L1370.4 334L1370.7 343.8L1370.8 327.3L1371 335L1371 330.3L1371.5 337.5L1371.6 333.2L1371.7 330.2L1371.9 329.5L1372 337.6L1372.1 336L1372.2 331.4L1372.5 329.3L1372.7 341.3L1372.7 336.5L1372.8 339.8L1373.1 330.4L1373.3 340.3L1373.3 331.9L1373.4 331.2L1373.6 327.8L1373.9 343.3L1373.9 336.6L1374 333.6L1374.1 332.6L1374.5 342.1L1374.5 339.4L1374.6 339.2L1374.9 343L1375.1 332L1375.2 335.6L1375.3 341.8L1375.7 332.9L1375.7 337.2L1375.8 331.1L1376.2 343.7L1376.4 339.4L1376.5 336.2L1376.5 333.5L1377 344.5L1377.1 335.8L1377.2 345L1377.4 330.3L1377.6 344.5L1377.6 336.9L1377.8 343.5L1378.2 338.5L1378.2 338.4L1378.4 342.5L1378.4 333.7L1378.7 337.8L1378.8 340.2L1379 342.1L1379.2 333.5L1379.4 337.5L1379.4 342.9L1379.6 329.4L1379.8 347.6L1380 339.5L1380 338.4L1380.3 336L1380.3 344.7L1380.6 342L1380.7 336.4L1380.9 343.6L1381 335.3L1381.2 341.7L1381.2 341.4L1381.6 346.1L1381.6 333.6L1381.7 339.2L1381.8 339.2L1381.9 333.9L1382.2 345.2L1382.4 339.6L1382.4 338.1L1382.8 335.9L1383 341.3L1383.1 347.1L1383.4 335.3L1383.6 341.3L1383.6 339L1383.7 345.9L1384.2 336.7L1384.2 336.6L1384.4 350.2L1384.7 340.9L1384.8 339.4L1384.9 348.2L1384.9 335.3L1385.4 343.4L1385.4 344.3L1385.5 335.2L1385.6 349.8L1386 340.3L1386 345.6L1386.2 336L1386.5 348.9L1386.6 338.5L1386.6 339.1L1386.8 349.8L1387.2 347.8L1387.3 347.7L1387.5 348.3L1387.6 339.6L1387.8 343.6L1387.9 342.6L1388 338L1388.2 350L1388.4 343.3L1388.5 344.5L1388.5 340L1388.9 347.3L1389 343.8L1389.1 342.9L1389.5 348.4L1389.5 338.5L1389.6 342.9L1389.7 342.8L1390 340.5L1390.1 348.9L1390.2 342.6L1390.3 347.3L1390.4 348.3L1390.5 341.9L1390.8 344.9L1390.8 343L1390.9 332.6L1391.1 348.8L1391.4 344.7L1391.4 343.3L1391.6 342.1L1391.6 349.2L1392 346.9L1392 348.2L1392.2 342.9L1392.3 351.1L1392.6 347.5L1392.6 344.4L1392.7 353.6L1392.9 341.2L1393.2 342.1L1393.2 341.3L1393.5 355.6L1393.8 334.8L1393.8 344.4L1394.2 351.4L1394.3 343.1L1394.3 345.1L1394.4 342L1394.5 352.1L1395 345.6L1395 349.8L1395.3 349.8L1395.6 342.3L1395.6 350.3L1395.8 341.9L1396.2 346.8L1396.2 348.9L1396.5 349.7L1396.7 344.2L1396.8 348.4L1396.8 349.1L1397 356.2L1397.3 339.6L1397.4 345.9L1397.4 352.8L1397.8 343.9L1398 355L1398 350.9L1398.3 354.2L1398.4 348.3L1398.6 349.8L1398.6 349.5L1398.7 341.9L1399.1 352L1399.2 349.4L1399.2 354.7L1399.3 355.4L1399.3 345.2L1399.8 347L1399.8 349.1L1400 351.5L1400.2 343.4L1400.4 347.8L1400.4 352.9L1400.7 348.4L1400.8 353.7L1401 351.8L1401 353.4L1401.4 343.5L1401.5 354.7L1401.6 346.5L1401.7 349.8L1401.8 357.4L1402.1 343.3L1402.2 350.9L1402.3 349.6L1402.4 343.7L1402.7 358.7L1402.8 350.4L1402.9 354.7L1403.1 345.3L1403.2 357.9L1403.4 346.2L1403.4 346.9L1403.7 355.2L1404 348.5L1404 355.2L1404.2 347.3L1404.6 354.3L1404.6 350L1404.9 349.7L1405.1 357.2L1405.2 351.4L1405.2 357.6L1405.5 360.4L1405.6 348.6L1405.7 351.6L1405.8 342.8L1406.1 358.3L1406.4 354.2L1406.4 348.6L1406.8 348L1406.9 359L1407 354L1407 355.3L1407.1 349.3L1407.5 357.1L1407.6 351.6L1407.6 354.9L1407.8 356.4L1407.8 349.6L1408.2 355.2L1408.2 349.2L1408.5 349.1L1408.7 361.1L1408.8 351.3L1408.8 356.9L1409 349.4L1409 362.9L1409.4 351.1L1409.4 350L1409.8 359.8L1410 358.3L1410 356.5L1410.2 362.1L1410.6 349.8L1410.6 356.8L1410.7 351.3L1410.9 365.6L1411.2 352L1411.2 353.7L1411.5 351L1411.7 359.2L1411.8 354.7L1411.8 358L1411.9 363.3L1412.2 349.9L1412.4 354.5L1412.4 359.3L1412.5 352.8L1412.9 362.9L1413 358.4L1413 352.5L1413.5 350.8L1413.6 362.1L1413.6 358.6L1413.8 351.3L1414.1 362.1L1414.2 355.2L1414.2 361.5L1414.4 352.1L1414.8 358.1L1414.8 354.1L1414.9 350.4L1415.4 359.3L1415.4 357L1415.5 354.4L1415.9 364.6L1416 357.2L1416 357.3L1416.2 362.4L1416.3 354.8L1416.6 361.9L1416.6 359.9L1416.7 364.2L1416.9 353.3L1417.2 361.9L1417.2 361.9L1417.6 364L1417.7 350.4L1417.8 355.7L1417.8 358.5L1418 356L1418.2 367.9L1418.4 357.9L1418.4 354L1418.9 363.3L1419 357.6L1419 363.1L1419.2 353.2L1419.3 364.3L1419.6 363.1L1419.6 361.1L1419.9 357.4L1419.9 365.7L1420.2 360L1420.2 362L1420.4 353L1420.8 366.4L1420.8 361.8L1420.9 363.5L1421.4 358.5L1421.4 363.4L1421.6 352.2L1421.8 369.6L1422 364.3L1422 360.6L1422.5 357.2L1422.5 365.4L1422.6 362.7L1422.6 356.7L1423 365L1423.2 360.2L1423.2 360.3L1423.2 358.2L1423.4 369L1423.8 359.5L1423.8 360.1L1423.9 366.8L1424.2 356.1L1424.4 360.2L1424.4 365L1424.6 357.2L1424.8 369.5L1425 363.4L1425 362.3L1425.5 369.2L1425.6 358.7L1425.6 364.4L1425.8 355.9L1426 365.5L1426.2 360.9L1426.2 359.6L1426.5 370.3L1426.6 358.4L1426.8 360.3L1426.8 367.2L1427.4 359.2L1427.4 366.8L1427.7 356.3L1427.8 372L1428 370.6L1428 360.8L1428.3 366.9L1428.6 361.2L1428.6 370.1L1429.1 371.8L1429.2 358L1429.2 365.5L1429.3 360.9L1429.4 372.4L1429.8 366.1L1429.8 366.2L1429.9 370.1L1430 362.5L1430.4 366L1430.4 372.7L1430.5 376.4L1430.7 357L1431 368.6L1431 358.1L1431.5 370.1L1431.6 362.2L1431.6 362.2L1432 373.9L1432.2 364.6L1432.2 369.3L1432.6 375.2L1432.8 362.8L1432.8 364.3L1433 370.7L1433.4 369.1L1433.4 366.6L1433.4 363.1L1433.6 372.9L1434 364.8L1434 369.5L1434.1 374.4L1434.3 365.9L1434.6 367.6L1434.6 363.8L1434.8 373.8L1435.2 370.2L1435.2 377.1L1435.4 364.1L1435.8 370.3L1435.8 370.5L1436.2 374.9L1436.3 366.5L1436.4 368.2L1436.4 366L1436.5 362.8L1436.8 373.6L1437 372.8L1437 373.4L1437.3 364.1L1437.6 367.9L1437.6 373.7L1437.8 374.9L1438.1 365.5L1438.2 370L1438.2 368.9L1438.5 364.8L1438.7 375.5L1438.8 372.7L1438.8 368.5L1439 366.1L1439.2 375L1439.4 370.4L1439.4 368.6L1439.6 364.4L1439.9 376.1L1440 368.1L1440 370.4L1440.2 376.8L1440.2 365.5L1440.6 370.9L1440.6 371.4L1440.7 374.6L1441 368.2L1441.2 373.3L1441.2 366L1441.5 378.9L1441.8 373.2L1441.8 379.7L1442 368.2L1442.4 371.8L1442.4 372.9L1442.6 379.2L1443 369.3L1443 374.7L1443.2 376.1L1443.6 366.3L1443.6 373.8L1443.7 366.5L1443.8 378.2L1444.2 376.1L1444.2 371.9L1444.6 369.7L1444.8 379.6L1444.8 365.8L1445.1 378.7L1445.4 373L1445.4 377.3L1445.7 366.9L1445.7 379.5L1446 372.4L1446 372.9L1446.1 371.4L1446.5 379.9L1446.6 378.5L1446.6 374.1L1446.8 368.5L1447 377.8L1447.2 371.9L1447.2 372.6L1447.3 367.9L1447.5 377.6L1447.8 374.8L1447.8 375L1447.9 380.4L1448.1 367.7L1448.4 372L1448.4 377.5L1448.5 370.2L1448.5 381.4L1449 372.2L1449 370.2L1449.1 378.8L1449.5 368.9L1449.6 374.8L1449.6 376.2L1450 371.8L1450.2 380.6L1450.2 375.5L1450.3 371.5L1450.4 380.6L1450.8 376.7L1450.8 373.8L1451 369.6L1451.4 386.6L1451.4 376.8L1451.6 379.1L1451.8 372L1452 376.7L1452 372.2L1452.3 368.8L1452.6 383.3L1452.6 380L1452.6 380.7L1452.7 372.9L1453.2 380.4L1453.2 381L1453.4 368.8L1453.8 382.3L1453.8 374.8L1454.2 372.8L1454.3 384.6L1454.4 383.4L1454.4 380.2L1454.6 369.9L1454.8 386.3L1455 372.2L1455 382.8L1455.1 374.5L1455.6 381.9L1455.6 379.2L1455.8 375.6L1456 386L1456.2 378.5L1456.2 375.4L1456.6 382.6L1456.7 371.6L1456.8 380.3L1456.8 375.5L1457 386.4L1457.2 372.8L1457.4 382.9L1457.4 378.1L1457.5 370.6L1457.7 384.9L1458 375.9L1458 380.9L1458.1 383.7L1458.2 370.9L1458.6 377.4L1458.6 381.5L1459.1 385.3L1459.2 373.5L1459.2 384.9L1459.6 385.7L1459.7 374.3L1459.8 382L1459.8 380L1459.8 376.3L1460.2 387.2L1460.4 380.7L1460.4 375.1L1460.5 387.3L1460.9 375.1L1461 376.4L1461 384.4L1461.2 385.1L1461.4 376.4L1461.6 380.6L1461.6 384.1L1462 378.2L1462.1 387.1L1462.2 379.9L1462.2 379.8L1462.6 376.2L1462.7 389.7L1462.8 382.2L1462.8 377.9L1463.1 385.8L1463.2 376L1463.4 384.6L1463.4 379.7L1463.8 376.3L1463.9 388.7L1464 385.5L1464 375.4L1464.1 389.1L1464.6 381.6L1464.6 374.6L1465.1 387.7L1465.2 382.3L1465.2 378.2L1465.6 390.2L1465.8 380.3L1465.8 378.7L1465.9 387.4L1466.4 378.5L1466.4 383.2L1466.5 384.9L1466.8 378.1L1467 384.5L1467 386.2L1467 387.5L1467.1 380.2L1467.6 385.2L1467.6 385L1467.7 390.9L1467.9 380.1L1468.2 384.2L1468.2 386.8L1468.3 377.6L1468.4 391.4L1468.8 385.1L1468.8 382L1469 379.4L1469.3 392.5L1469.4 385.8L1469.4 389.4L1469.4 380.2L1469.6 390L1470 389.6L1470 388.5L1470.3 380.2L1470.5 390.7L1470.6 386L1470.6 389.4L1470.8 390.3L1470.9 379.2L1471.2 383.9L1471.2 385.4L1471.4 378.8L1471.8 392.1L1471.8 378.1L1472.3 391.4L1472.4 387.9L1472.4 386.5L1472.4 393.4L1472.7 380.9L1473 388L1473 387.8L1473.3 379.5L1473.4 389.5L1473.6 386.8L1473.6 379.5L1473.7 390.7L1473.9 376.7L1474.2 388.1L1474.2 384.2L1474.3 381.6L1474.6 389.6L1474.8 384L1474.8 387.8L1474.8 392.7L1475.3 382.7L1475.4 386.5L1475.4 385.1L1475.5 381.6L1475.7 389.5L1476 385.8L1476 389.2L1476.5 383.6L1476.6 391.1L1476.6 386.5L1476.8 393.1L1476.9 384.8L1477.2 389.1L1477.2 382.8L1477.6 392.6L1477.8 386.3L1477.8 388.2L1478.2 395.2L1478.4 382.4L1478.4 386L1478.4 383.7L1478.8 393.5L1479 388.5L1479 385.1L1479.1 393.1L1479.4 382.9L1479.6 387L1479.6 389.7L1480 394.1L1480.1 383.7L1480.2 390.6L1480.2 390.7L1480.4 386.4L1480.4 395.9L1480.8 388.8L1480.8 388.5L1481 383.1L1481.3 397.4L1481.4 389.9L1481.4 386.2L1481.8 393.3L1482 384.4L1482 391.4L1482 387.3L1482.2 383L1482.3 396.5L1482.6 391.3L1482.6 385L1482.9 383.6L1482.9 398L1483.2 393.7L1483.2 393.9L1483.4 396.3L1483.5 383L1483.8 393.3L1483.8 388.7L1483.9 397L1484 385.1L1484.4 392L1484.4 398.7L1484.5 385.7L1485 392.6L1485 388.7L1485.2 384.3L1485.3 396L1485.6 393.7L1485.6 395.9L1486 398.1L1486.1 387.2L1486.2 388.5L1486.2 394.7L1486.3 388.1L1486.7 397.3L1486.8 388.9L1486.8 395.8L1487.1 405.6L1487.2 387.6L1487.4 396.3L1487.4 391.1L1487.7 388.4L1487.9 398.7L1488 393.9L1488 397L1488.1 400.7L1488.4 389.2L1488.6 396L1488.6 392.7L1488.7 387.2L1488.8 396.6L1489.2 392L1489.2 395.5L1489.3 387.1L1489.6 397.5L1489.8 389.8L1489.8 391L1490.4 401.5L1490.4 388.7L1490.4 397.6L1491 401.2L1491 388.4L1491 394.1L1491.1 401.4L1491.5 387.5L1491.6 395.9L1491.6 396.2L1491.9 387.3L1492.1 402L1492.2 393L1492.2 397.4L1492.4 390.1L1492.8 403L1492.8 395L1492.8 396.5L1492.9 384.8L1493.1 401.3L1493.4 398.4L1493.4 399.8L1493.6 405.2L1494 386.7L1494 393.6L1494.2 401.9L1494.4 390.2L1494.6 399.4L1494.6 398L1494.9 400.8L1495.2 391L1495.2 393.6L1495.2 400L1495.6 402.1L1495.6 389.8L1495.8 393.8L1495.8 401.5L1495.9 402.8L1495.9 390L1496.4 400.3L1496.4 396.9L1496.7 402.5L1496.8 392.7L1497 396.3L1497 397.1L1497.2 393L1497.5 403.5L1497.6 397L1497.6 398.5L1497.8 395.3L1498 405.5L1498.2 400.3L1498.2 402.3L1498.3 403.1L1498.6 393.1L1498.8 399.6L1498.8 399.1L1498.9 404.4L1499.4 394.9L1499.4 403.7L1499.4 391.9L1500 403.6L1500 399.6L1500 400.6L1500.3 392.8L1500.4 406.5L1500.6 396.8L1500.6 401.5L1500.7 394.8L1501.1 406.1L1501.2 398.8L1501.2 399.7L1501.5 394L1501.5 407.2L1501.8 396.6L1501.8 396.8L1501.9 405.8L1502.2 394.1L1502.4 399.9L1502.4 400.4L1502.5 398.3L1502.9 406.1L1503 400.5L1503 398.3L1503.2 391.3L1503.6 411.1L1503.6 400L1503.6 395.7L1504.1 407.8L1504.2 402.1L1504.2 402L1504.4 408.9L1504.4 398.2L1504.8 404.1L1504.8 407.1L1505 407.7L1505.3 397.8L1505.4 402.4L1505.4 401.5L1505.6 407.2L1505.8 394.6L1506 404.7L1506 401.7L1506.4 397.8L1506.5 406.5L1506.6 399.3L1506.6 402.9L1506.7 397.2L1506.9 409.3L1507.2 398.4L1507.2 397.8L1507.3 409.2L1507.5 397.5L1507.8 399.7L1507.8 401.2L1507.9 409.2L1508.3 396.7L1508.4 398L1508.4 404.7L1508.5 406.6L1508.9 398L1509 404.1L1509 402.4L1509.2 397.1L1509.5 411L1509.6 408.2L1509.6 409.9L1509.8 395.2L1510.1 410.5L1510.2 404.3L1510.2 405.9L1510.3 414.3L1510.5 401.2L1510.8 407.8L1510.8 403L1511.1 399.7L1511.2 410.7L1511.4 406.9L1511.4 406.7L1511.7 412.3L1511.8 398.6L1512 401.9L1512 410.5L1512.3 399.5L1512.4 412.4L1512.6 401.5L1512.6 405L1512.7 399.7L1513.1 409.9L1513.2 409.5L1513.2 407.7L1513.4 413.8L1513.5 400.4L1513.8 404.2L1513.8 406.7L1513.8 400.3L1514.1 411.5L1514.4 406.9L1514.4 405.8L1514.8 400.2L1514.9 413.8L1515 404.6L1515 412.4L1515.4 402.8L1515.5 412.5L1515.6 412.4L1515.6 406.7L1515.7 404.9L1516.1 413.7L1516.2 411L1516.2 411.4L1516.6 401.3L1516.7 412.9L1516.8 406.8L1516.8 413.2L1516.9 415.5L1517.2 404.1L1517.4 408.3L1517.4 404.5L1517.5 402L1517.7 414.8L1518 411.7L1518 405.8L1518.2 415.5L1518.5 402.8L1518.6 411.5L1518.6 406.7L1518.7 403.7L1518.9 416L1519.2 411L1519.2 413L1519.2 400.1L1519.6 417.5L1519.8 410.4L1519.8 404.1L1519.9 414.8L1520.4 412.8L1520.4 410.3L1520.7 405.6L1520.7 415.9L1521 407.1L1521 411.2L1521.5 400.7L1521.6 415.2L1521.6 411.8L1521.6 409L1522.1 417.2L1522.1 406.6L1522.2 410L1522.2 410.2L1522.5 417.9L1522.8 406.8L1522.8 415.9L1522.8 410.7L1523.2 415.7L1523.3 406.5L1523.4 409.2L1523.4 410.5L1523.7 404.4L1523.9 417.5L1524 409.7L1524 410.6L1524.2 419.3L1524.3 406.5L1524.6 411.4L1524.6 410L1524.7 406.4L1524.9 418.4L1525.2 411L1525.2 407.3L1525.3 405.1L1525.5 421L1525.8 415.9L1525.8 412.1L1526.2 404.4L1526.3 415.1L1526.4 414L1526.4 411.7L1526.7 419.4L1526.7 407.6L1527 410.2L1527 414.8L1527.3 406.8L1527.5 420.7L1527.6 418.5L1527.6 409L1527.7 408.8L1527.9 420.4L1528.2 417.2L1528.2 413.2L1528.6 417.8L1528.6 406.7L1528.8 413.1L1528.8 415.6L1528.9 407.6L1529.1 419.9L1529.4 416.7L1529.4 416.9L1529.6 409.2L1529.6 421.4L1530 414.9L1530 410.2L1530.1 421.8L1530.2 408L1530.6 418.3L1530.6 413.9L1530.7 409.1L1530.7 424.3L1531.2 416.4L1531.2 418.3L1531.4 411.7L1531.7 420.8L1531.8 415.9L1531.8 417.7L1532 419.9L1532.1 410.8L1532.4 415.7L1532.4 415.3L1532.7 421.5L1532.9 412L1533 417.3L1533 421.7L1533.6 410.2L1533.6 415.5L1533.6 411.6L1533.8 423.1L1534.1 411.3L1534.2 415.8L1534.2 417.8L1534.3 409.9L1534.4 420.3L1534.8 413.2L1534.8 421.4L1535.1 425.7L1535.1 413.6L1535.4 417.6L1535.4 419.1L1535.5 422.8L1535.6 408.7L1536 411L1536 417.9L1536.2 422L1536.5 413.7L1536.6 415.2L1536.6 417.9L1537 411.9L1537.1 429.9L1537.2 423.8L1537.2 422.4L1537.3 423.5L1537.6 413.9L1537.8 416.7L1537.8 418.9L1537.8 427L1537.9 411.4L1538.4 421.3L1538.4 419.6L1538.5 412.5L1538.6 425.9L1539 417.8L1539 417.6L1539.1 414.9L1539.2 425.2L1539.6 420.8L1539.6 421.3L1539.6 415.4L1540.2 424.5L1540.2 416.3L1540.2 423.2L1540.5 415.7L1540.5 427L1540.8 419.4L1540.8 419.3L1540.9 424.6L1541.3 414.9L1541.4 418.3L1541.4 419.4L1541.7 428.2L1542 414.6L1542 421.1L1542 424.6L1542.3 416.2L1542.6 429.1L1542.6 420.6L1543 426L1543.1 416.6L1543.2 420.5L1543.2 425.9L1543.7 427.9L1543.8 414.1L1543.8 426L1543.8 421.7L1543.8 416.2L1544.1 428.6L1544.4 423.4L1544.4 423.4L1544.9 414.8L1545 426.7L1545 426.6L1545 425.6L1545.4 416.8L1545.5 427.6L1545.6 425L1545.6 418.7L1545.7 416.2L1546.1 427.3L1546.2 418.1L1546.2 422.4L1546.4 418.1L1546.5 428.6L1546.8 427.5L1546.8 419.7L1547 427L1547.1 417.9L1547.4 422.7L1547.4 422.4L1547.7 427.6L1547.9 418.4L1548 420.1L1548 425.6L1548 428.4L1548.4 415.8L1548.6 425.1L1548.6 422.6L1548.8 416.3L1548.9 428.6L1549.2 426.2L1549.2 423.6L1549.4 418.1L1549.6 431.9L1549.8 419.9L1549.8 422L1550 430L1550 418.9L1550.4 424.7L1550.4 423.3L1550.9 418.1L1551 430.6L1551 427.2L1551 427.1L1551.2 419L1551.4 430L1551.6 421.9L1551.6 428.6L1551.9 422.1L1551.9 434.3L1552.2 427.1L1552.2 422.4L1552.7 420.3L1552.7 432.8L1552.8 423.7L1552.8 427.6L1552.9 430.9L1553 420.9L1553.4 424.6L1553.4 424.4L1553.9 432.4L1554 421.9L1554 428L1554 425.3L1554.4 422.6L1554.5 432L1554.6 425.7L1554.6 428.9L1554.8 420.1L1554.9 432.8L1555.2 432L1555.2 427.9L1555.3 422.3L1555.6 433.8L1555.8 426.9L1555.8 431.4L1556 423.5L1556.4 433.1L1556.4 432L1556.4 429.9L1556.7 422.8L1556.9 434.5L1557 426.2L1557 430.6L1557 423.6L1557.1 433.5L1557.6 431.6L1557.6 426L1557.9 436.6L1558.1 421.2L1558.2 429.6L1558.2 425.8L1558.4 422.5L1558.5 436.4L1558.8 429.8L1558.8 433.7L1559.1 421.8L1559.4 428L1559.4 432.1L1559.5 434.7L1559.9 420.4L1560 430.8L1560 435.3L1560.1 435.4L1560.5 423.6L1560.6 431.3L1560.6 433.3L1561 425.9L1561.1 435.1L1561.2 426.1L1561.2 431.9L1561.6 425.1L1561.6 435.9L1561.8 434.3L1561.8 427L1562 437.1L1562 424.3L1562.4 429.1L1562.4 430.2L1562.8 424.1L1562.9 437.6L1563 429.4L1563 430.3L1563.2 428.1L1563.5 438.9L1563.6 432.4L1563.6 434.3L1563.7 438.9L1564.1 427.7L1564.2 430.7L1564.2 430.9L1564.3 441.1L1564.5 424.6L1564.8 434L1564.8 433.9L1564.8 437.8L1565.1 426.7L1565.4 429.3L1565.4 432L1565.4 424.5L1565.6 438.3L1566 433.5L1566 433.7L1566.4 438.9L1566.5 426.1L1566.6 433.1L1566.6 431.9L1566.7 438.4L1567 425.3L1567.2 432.1L1567.2 438.7L1567.5 426.2L1567.8 433.7L1567.8 431.6L1567.9 427.2L1568.3 440.9L1568.4 433.4L1568.4 435.4L1568.6 426.2L1568.7 437.7L1569 435.4L1569 434.2L1569 439.8L1569.1 428.4L1569.6 431.8L1569.6 428.7L1569.7 428.3L1570.1 438.4L1570.2 432.2L1570.2 430.1L1570.2 427L1570.6 440.5L1570.8 434.8L1570.8 435.8L1571.2 427.4L1571.4 443.6L1571.4 441L1571.4 436.8L1571.5 440.8L1571.9 426.2L1572 440.4L1572 438.7L1572.4 442.5L1572.4 428.8L1572.6 433.9L1572.6 430.6L1572.7 440.7L1573.1 429.7L1573.2 433.7L1573.2 436.2L1573.2 426.8L1573.6 439.2L1573.8 436.8L1573.8 437.4L1574 428.1L1574.2 445.9L1574.4 437.4L1574.4 437.3L1574.6 443L1574.9 426.1L1575 434.9L1575 432.3L1575 443.9L1575.5 429.9L1575.6 435.8L1575.6 439.4L1576.1 428.2L1576.1 440.7L1576.2 437.7L1576.2 440.9L1576.5 444.9L1576.8 431.7L1576.8 437.9L1576.8 433.4L1577 442.7L1577.2 426.6L1577.4 436.5L1577.4 433.3L1577.4 443.8L1577.6 429.1L1578 436.4L1578 442.2L1578.2 429.5L1578.6 440L1578.6 432.4L1579 446.2L1579.1 431.4L1579.2 436L1579.2 434.7L1579.3 444.2L1579.6 432L1579.8 435.1L1579.8 436.7L1580.1 431.6L1580.2 445.2L1580.4 433.9L1580.4 438.9L1580.5 432.6L1580.5 442.2L1581 439.3L1581 439.7L1581 444.2L1581.4 434.7L1581.6 441.1L1581.6 439.3L1581.7 444.2L1581.7 431.6L1582.2 443.4L1582.2 437.3L1582.4 447.6L1582.6 432.4L1582.8 439.9L1582.8 440.5L1582.9 444.9L1583.4 433.4L1583.4 442.3L1583.4 429.4L1583.8 447.2L1584 439L1584 434.7L1584.1 445.2L1584.6 441.6L1584.6 443.6L1584.8 445.5L1585 432.5L1585.2 445.4L1585.2 438.8L1585.4 433.4L1585.6 445.8L1585.8 441.9L1585.8 442.3L1585.9 447.6L1586 435.2L1586.4 440.1L1586.4 439.7L1586.8 435.8L1587 448.1L1587 437.9L1587 438.3L1587.1 435.8L1587.4 447.5L1587.6 444.5L1587.6 444L1587.7 446.9L1588.2 436.1L1588.2 440.8L1588.3 435.2L1588.6 448.1L1588.8 441.6L1588.8 440.4L1588.9 436.6L1589.2 448.3L1589.4 439.6L1589.4 441.1L1589.6 449.1L1589.9 435.9L1590 440.9L1590 445.9L1590.4 433.8L1590.5 449.2L1590.6 437.8L1590.6 444.5L1590.9 435.1L1591.2 453.3L1591.2 441.3L1591.2 442.1L1591.6 448.8L1591.7 434.8L1591.8 445.2L1591.8 444.5L1591.9 448.3L1592 435.8L1592.4 443.3L1592.4 442.7L1592.5 437.7L1592.7 450L1593 444L1593 442.1L1593.2 450.7L1593.3 437.2L1593.6 438.1L1593.6 446.3L1593.8 449.3L1594.1 438.9L1594.2 441.2L1594.2 445.2L1594.2 436L1594.4 450.4L1594.8 443.5L1594.8 442.8L1595 452.1L1595.4 438.7L1595.4 444.4L1595.6 438.8L1595.7 450.1L1596 448.4L1596 443.6L1596.3 439.4L1596.4 450.4L1596.6 441.2L1596.6 443.9L1597 451.3L1597.1 441.1L1597.2 449.5L1597.2 439.8L1597.4 452.4L1597.7 437.6L1597.8 445.4L1597.8 446.4L1598.2 456.4L1598.3 440.2L1598.4 450.4L1598.4 446L1598.9 439.6L1599 450.9L1599 448.7L1599 445.2L1599.1 457.6L1599.3 441.8L1599.6 443.9L1599.6 444.4L1599.7 454.3L1600.1 438.5L1600.2 451L1600.2 451.8L1600.3 453L1600.4 441.3L1600.8 451.6L1600.8 443.7L1600.8 441.1L1601.3 454.8L1601.4 445.7L1601.4 443.6L1601.6 455L1601.9 440.1L1602 450.2L1602 451L1602.5 443.1L1602.6 453L1602.6 449.2L1602.6 447.2L1602.8 453.4L1603.1 442.5L1603.2 448.7L1603.2 449.3L1603.4 454.3L1603.7 439L1603.8 446.1L1603.8 447.1L1604.3 443.1L1604.4 454.3L1604.4 449.5L1604.4 451L1604.7 455L1604.9 444.1L1605 452.5L1605 449.1L1605.1 442.8L1605.3 456.5L1605.6 455.1L1605.6 452.6L1606.1 442.9L1606.2 455.1L1606.2 449.1L1606.2 451.9L1606.5 442.6L1606.8 454.7L1606.8 451.5L1606.8 445.5L1606.9 455.9L1607.3 443.9L1607.4 452.3L1607.4 444.2L1607.5 442.3L1607.6 458.4L1608 452.4L1608 451.6L1608.2 458.7L1608.4 442L1608.6 449.5L1608.6 450.8L1608.7 457.5L1609.1 445.9L1609.2 446.9L1609.2 453.7L1609.5 457.4L1609.6 445.7L1609.8 449.2L1609.8 450.5L1609.9 457.9L1610.2 446.5L1610.4 449L1610.4 452.2L1610.5 444.8L1610.6 456.7L1611 449L1611 449.6L1611.3 445.3L1611.5 458L1611.6 452.7L1611.6 453.2L1611.9 456L1612.1 446.7L1612.2 452L1612.2 451L1612.4 460.3L1612.8 446.5L1612.8 447.2L1612.8 453.9L1612.9 447.4L1613.1 460.3L1613.4 452.6L1613.4 454.9L1613.6 460L1613.9 447.8L1614 448.4L1614 452.4L1614.1 446.1L1614.3 459.5L1614.6 456.2L1614.6 458.1L1614.9 460.3L1615.1 448.1L1615.2 450.1L1615.2 447.1L1615.4 445.7L1615.5 459.3L1615.8 453.1L1615.8 449.3L1616 447L1616.4 461.6L1616.4 459.2L1616.4 451.8L1616.5 460.6L1616.6 447.9L1617 450.4L1617 453.5L1617.1 461.7L1617.6 447.9L1617.6 454.1L1617.6 460L1617.9 463.3L1618.1 448.3L1618.2 455L1618.2 455.9L1618.6 461.8L1618.7 448.8L1618.8 453.9L1618.8 452.7L1619 449.1L1619.1 461.2L1619.4 456.1L1619.4 456.5L1619.5 463L1619.9 447.9L1620 453.4L1620 454.3L1620.1 447.3L1620.2 463.1L1620.6 453.9L1620.6 454.4L1620.7 449.6L1620.8 462.4L1621.2 456.6L1621.2 459.8L1621.2 450.6L1621.4 462L1621.8 456.2L1621.8 455.7L1622.2 450.7L1622.3 463.2L1622.4 455.3L1622.4 452.7L1622.7 461.3L1622.7 450.6L1623 456.9L1623 458.8L1623.2 449.3L1623.2 462.6L1623.6 454L1623.6 456L1623.6 450.3L1623.9 465.4L1624.2 456.4L1624.2 453.9L1624.6 451.3L1624.7 462L1624.8 457L1624.8 462.7L1624.9 452L1625 464.3L1625.4 458.3L1625.4 462.2L1625.9 463.2L1625.9 450.7L1626 460.8L1626 461.7L1626.1 449L1626.5 465L1626.6 458.5L1626.6 458.9L1627 449.9L1627.1 464.1L1627.2 455.3L1627.2 454.3L1627.6 465.8L1627.8 451.8L1627.8 458.7L1627.8 457L1627.9 451.2L1628.3 462L1628.4 459.6L1628.4 452.1L1628.6 452.1L1628.6 466L1629 459.3L1629 461.6L1629.1 462.7L1629.2 452.8L1629.6 458.2L1629.6 463.5L1629.7 466.4L1629.8 454.2L1630.2 459.8L1630.2 457.8L1630.3 464.9L1630.5 451.9L1630.8 455.7L1630.8 461.2L1631 464.8L1631.1 450.8L1631.4 459.1L1631.4 455.8L1631.8 452.1L1631.8 467.4L1632 456.1L1632 455.8L1632.2 464.5L1632.4 450.3L1632.6 458.3L1632.6 459.7L1632.9 466.2L1632.9 454.5L1633.2 457.9L1633.2 460.4L1633.5 450.4L1633.7 465.1L1633.8 456.5L1633.8 460.2L1634.2 467.3L1634.4 454.3L1634.4 459.9L1634.4 460.1L1634.7 465.4L1634.9 454.1L1635 463.4L1635 461.4L1635.3 452.1L1635.4 466.2L1635.6 460.7L1635.6 459.1L1635.9 455.4L1636.1 465.6L1636.2 459.7L1636.2 462.9L1636.5 453.1L1636.7 467.2L1636.8 457.4L1636.8 457.8L1636.9 465.5L1637.1 454.9L1637.4 461.5L1637.4 458L1637.4 450.9L1637.8 464.9L1638 462.5L1638 463.6L1638.4 455.1L1638.5 468.9L1638.6 458.9L1638.6 461.4L1638.9 453.3L1639 467.3L1639.2 458L1639.2 462.5L1639.2 466.7L1639.4 455.8L1639.8 457.2L1639.8 463.4L1639.9 455.5L1640.1 468.3L1640.4 461.9L1640.4 461.2L1640.7 468.6L1640.7 453.9L1641 461.8L1641 460.7L1641 467.9L1641.4 456.5L1641.6 460L1641.6 457.5L1641.6 456.2L1641.9 468.8L1642.2 460.1L1642.2 460.9L1642.3 455.7L1642.5 467.8L1642.8 467.3L1642.8 458.7L1643.1 466.8L1643.3 455.8L1643.4 466.2L1643.4 466L1643.4 467.6L1643.9 453.6L1644 462.5L1644 462.2L1644.2 469.2L1644.4 453.6L1644.6 460.5L1644.6 462.6L1644.7 454.5L1645.1 468.8L1645.2 463.4L1645.2 465L1645.4 468L1645.6 456.6L1645.8 460.9L1645.8 463.4L1646.2 454.4L1646.3 469.5L1646.4 460.1L1646.4 463.4L1646.7 458.1L1646.8 467.7L1647 459.6L1647 468.5L1647.2 469.6L1647.4 457.5L1647.6 462.5L1647.6 462.3L1648.1 457L1648.1 468.4L1648.2 462.4L1648.2 462L1648.6 455.8L1648.6 470.1L1648.8 466.2L1648.8 462.1L1648.9 454.8L1649.2 469.6L1649.4 465.2L1649.4 462.4L1649.6 457.2L1649.8 468.5L1650 464.8L1650 459.8L1650.5 470.8L1650.5 456.9L1650.6 458.6L1650.6 470.9L1650.8 457.3L1651.2 463.4L1651.2 464.9L1651.3 457.4L1651.4 471.6L1651.8 464.7L1651.8 462.3L1652 460.1L1652.1 471.3L1652.4 463L1652.4 467.4L1652.4 469.9L1652.8 457L1653 464.8L1653 465.4L1653 457.8L1653.5 472.7L1653.6 463.2L1653.6 466.4L1654.1 458.9L1654.2 472.9L1654.2 466.9L1654.2 468.6L1654.6 471.5L1654.7 459.5L1654.8 464.1L1654.8 467.1L1654.9 456.4L1655.3 471.8L1655.4 462.8L1655.4 463.5L1655.6 473.7L1655.7 458L1656 468.6L1656 462L1656.4 458L1656.5 474.2L1656.6 468.2L1656.6 467.7L1656.8 469.5L1656.9 458.1L1657.2 463.2L1657.2 464.2L1657.2 471.1L1657.3 456.4L1657.4 460.7" fill="none" stroke="#ff0000" stroke-width="6" stroke-linecap="square" stroke-linejoin="round"/>
<path d="M1311.3 714.9V10.9" stroke="#ff0000" stroke-width="6" fill="none" stroke-dasharray="6 9.86"/>
</g>
<rect x="241.5" y="10.9" width="1483" height="704" fill="none" stroke="#000" stroke-width="3"/>
<path d="M324.6 714.9V703.3M644.5 714.9V703.3M964.4 714.9V703.3M1284.3 714.9V703.3M1604.2 714.9V703.3" stroke="#000" stroke-width="2.5" fill="none"/>
<path d="M253.6 714.9V708.3M275 714.9V708.3M293.6 714.9V708.3M310 714.9V708.3M420.9 714.9V708.3M477.2 714.9V708.3M517.2 714.9V708.3M548.2 714.9V708.3M573.5 714.9V708.3M594.9 714.9V708.3M613.5 714.9V708.3M629.9 714.9V708.3M740.8 714.9V708.3M797.1 714.9V708.3M837.1 714.9V708.3M868.1 714.9V708.3M893.4 714.9V708.3M914.8 714.9V708.3M933.4 714.9V708.3M949.8 714.9V708.3M1060.7 714.9V708.3M1117 714.9V708.3M1157 714.9V708.3M1188 714.9V708.3M1213.3 714.9V708.3M1234.7 714.9V708.3M1253.3 714.9V708.3M1269.7 714.9V708.3M1380.6 714.9V708.3M1436.9 714.9V708.3M1476.9 714.9V708.3M1507.9 714.9V708.3M1533.2 714.9V708.3M1554.6 714.9V708.3M1573.2 714.9V708.3M1589.6 714.9V708.3M1700.5 714.9V708.3" stroke="#000" stroke-width="1.9" fill="none"/>
<path d="M241.5 99H253.1M241.5 203.3H253.1M241.5 307.6H253.1M241.5 411.9H253.1M241.5 516.2H253.1M241.5 620.5H253.1" stroke="#000" stroke-width="2.5" fill="none"/>
<g clip-path="url(#c1)">
<path d="M307 1297.5L985.3 966.6" fill="none" stroke="#d3d3d3" stroke-width="6" stroke-linecap="butt" stroke-linejoin="round"/>
<path d="M309 1627.2L405.3 1501.2L501.6 1496.1L597.9 1465.4L694.2 1353L790.5 1393.3L886.8 1351.7L983.1 1260.8L1079.4 1203.9L1175.7 1139L1272 1182.4L1368.3 1225.7L1464.6 1439.6L1560.9 1460.7" fill="none" stroke="#000" stroke-width="6" stroke-linecap="square" stroke-linejoin="round"/>
<path d="M309 1466.1L405.3 1427.4L501.6 1339.3L597.9 1340.6L694.2 1252.8L790.5 1210.2L886.8 1189.5L983.1 1134.9L1079.4 1112.5L1175.7 1033.7L1272 1077.7L1368.3 1055.4L1464.6 1074.2L1560.9 1049.2" fill="none" stroke="#ff0000" stroke-width="6" stroke-linecap="square" stroke-linejoin="round"/>
</g>
<rect x="241.5" y="890.8" width="1483" height="703.4" fill="none" stroke="#000" stroke-width="3"/>
<path d="M324.6 1594.2V1582.6M644.5 1594.2V1582.6M964.4 1594.2V1582.6M1284.3 1594.2V1582.6M1604.2 1594.2V1582.6" stroke="#000" stroke-width="2.5" fill="none"/>
<path d="M253.6 1594.2V1587.6M275 1594.2V1587.6M293.6 1594.2V1587.6M310 1594.2V1587.6M420.9 1594.2V1587.6M477.2 1594.2V1587.6M517.2 1594.2V1587.6M548.2 1594.2V1587.6M573.5 1594.2V1587.6M594.9 1594.2V1587.6M613.5 1594.2V1587.6M629.9 1594.2V1587.6M740.8 1594.2V1587.6M797.1 1594.2V1587.6M837.1 1594.2V1587.6M868.1 1594.2V1587.6M893.4 1594.2V1587.6M914.8 1594.2V1587.6M933.4 1594.2V1587.6M949.8 1594.2V1587.6M1060.7 1594.2V1587.6M1117 1594.2V1587.6M1157 1594.2V1587.6M1188 1594.2V1587.6M1213.3 1594.2V1587.6M1234.7 1594.2V1587.6M1253.3 1594.2V1587.6M1269.7 1594.2V1587.6M1380.6 1594.2V1587.6M1436.9 1594.2V1587.6M1476.9 1594.2V1587.6M1507.9 1594.2V1587.6M1533.2 1594.2V1587.6M1554.6 1594.2V1587.6M1573.2 1594.2V1587.6M1589.6 1594.2V1587.6M1700.5 1594.2V1587.6" stroke="#000" stroke-width="1.9" fill="none"/>
<path d="M241.5 1125.4H253.1M241.5 1298.3H253.1M241.5 1435.5H253.1M241.5 1532.9H253.1" stroke="#000" stroke-width="2.5" fill="none"/>
<path d="M241.5 1161.1H248.1M241.5 1200.9H248.1M241.5 1246.1H248.1M241.5 1360H248.1" stroke="#000" stroke-width="1.9" fill="none"/>
<g clip-path="url(#c2)">
<path d="M308.9 1787.3L549.1 1931.9L689.6 1894.6L789.3 2113.4L866.7 2143.7L929.9 2081.5L983.3 2353.8L1029.6 2168L1070.4 2336.9L1106.9 2230.9L1139.9 2354.4L1170.1 2318.5L1197.8 2375.8L1223.5 2346.7L1247.4 2424.7L1269.8 2356.4L1290.8 2423.7L1310.6 2374.8L1329.3 2430.2L1347.1 2389L1364 2411.8L1380.2 2374.4L1395.6 2400.9L1410.3 2371.4L1424.5 2396L1438 2359.8L1451.1 2392L1463.7 2351.4L1475.9 2390.7L1487.6 2343L1499 2379.5L1510 2333L1520.7 2374.6L1531 2318.3L1541.1 2363.4L1550.8 2312.4L1560.3 2372.3L1569.6 2305.3L1578.6 2382.5L1587.3 2300.8L1595.9 2403.6L1604.3 2301.7L1612.4 2421.1L1620.4 2298.1L1628.2 2437.2L1635.8 2294.9L1643.2 2438.5L1650.5 2288.6L1657.7 2414.7" fill="none" stroke="#000" stroke-width="6" stroke-linecap="square" stroke-linejoin="round"/>
<path d="M308.9 2085.5L549.1 2054.8L689.6 2216.8L789.3 2083.1L866.7 2139.6L929.9 2115L983.3 2173.8L1029.6 2224.5L1070.4 2227.7L1106.9 2234.7L1139.9 2284.2L1170.1 2261.7L1197.8 2289.1L1223.5 2259L1247.4 2311.8L1269.8 2262L1290.8 2317.4L1310.6 2279.4L1329.3 2331.6L1347.1 2297L1364 2334L1380.2 2300L1395.6 2350.4L1410.3 2318.5L1424.5 2363.8L1438 2324L1451.1 2371.8L1463.7 2332.1L1475.9 2369.6L1487.6 2333.5L1499 2365.2L1510 2339.2L1520.7 2366.4L1531 2337.4L1541.1 2367.8L1550.8 2341.6L1560.3 2374.6L1569.6 2343.7L1578.6 2375.9L1587.3 2346.4L1595.9 2379.5L1604.3 2346.4L1612.4 2380L1620.4 2336.5L1628.2 2390.7L1635.8 2321.9L1643.2 2395L1650.5 2302L1657.7 2392.9" fill="none" stroke="#ff0000" stroke-width="6" stroke-linecap="square" stroke-linejoin="round"/>
<path d="M787 1897.3L1142 2090.1" fill="none" stroke="#d3d3d3" stroke-width="6" stroke-linecap="butt" stroke-linejoin="round"/>
<path d="M787 2251L1142 2396.9" fill="none" stroke="#d3d3d3" stroke-width="6" stroke-linecap="butt" stroke-linejoin="round"/>
</g>
<rect x="241.5" y="1770.5" width="1483" height="703.6" fill="none" stroke="#000" stroke-width="3"/>
<path d="M308.9 2474.1V2462.5M1106.9 2474.1V2462.5" stroke="#000" stroke-width="2.5" fill="none"/>
<path d="M272.4 2474.1V2467.5M549.1 2474.1V2467.5M689.6 2474.1V2467.5M789.3 2474.1V2467.5M866.7 2474.1V2467.5M929.9 2474.1V2467.5M983.3 2474.1V2467.5M1029.6 2474.1V2467.5M1070.4 2474.1V2467.5M1347.1 2474.1V2467.5M1487.6 2474.1V2467.5M1587.3 2474.1V2467.5M1664.7 2474.1V2467.5" stroke="#000" stroke-width="1.9" fill="none"/>
<path d="M241.5 1988.9H253.1M241.5 2207.3H253.1M241.5 2425.7H253.1" stroke="#000" stroke-width="2.5" fill="none"/>
<path d="M241.5 1923.2H248.1M241.5 1884.7H248.1M241.5 1857.4H248.1M241.5 1836.2H248.1M241.5 1819H248.1M241.5 1804.3H248.1M241.5 1791.7H248.1M241.5 1780.5H248.1M241.5 2141.6H248.1M241.5 2103.1H248.1M241.5 2075.8H248.1M241.5 2054.6H248.1M241.5 2037.4H248.1M241.5 2022.7H248.1M241.5 2010.1H248.1M241.5 1998.9H248.1M241.5 2360H248.1M241.5 2321.5H248.1M241.5 2294.2H248.1M241.5 2273H248.1M241.5 2255.8H248.1M241.5 2241.1H248.1M241.5 2228.5H248.1M241.5 2217.3H248.1M241.5 2474.2H248.1M241.5 2459.5H248.1M241.5 2446.9H248.1M241.5 2435.7H248.1" stroke="#000" stroke-width="1.9" fill="none"/>
<text transform="scale(1 0.985)"><tspan x="128.21" y="123.86" font-size="59.5">10</tspan><tspan x="204.83" y="101.42" font-size="42.36">4</tspan></text>
<text transform="scale(1 0.985)"><tspan x="130.08" y="229.75" font-size="59.5">10</tspan><tspan x="206.69" y="207.31" font-size="42.36">2</tspan></text>
<text transform="scale(1 0.985)"><tspan x="128.65" y="335.63" font-size="59.5">10</tspan><tspan x="205.26" y="313.2" font-size="42.36">0</tspan></text>
<text transform="scale(1 0.985)"><tspan x="94.58" y="441.52" font-size="59.5">10</tspan><tspan x="171.19" y="419.09" font-size="42.36">−2</tspan></text>
<text transform="scale(1 0.985)"><tspan x="92.72" y="547.41" font-size="59.5">10</tspan><tspan x="169.33" y="524.97" font-size="42.36">−4</tspan></text>
<text transform="scale(1 0.985)"><tspan x="93.01" y="653.3" font-size="59.5">10</tspan><tspan x="169.62" y="630.86" font-size="42.36">−6</tspan></text>
<text transform="scale(1 0.985)"><tspan x="257.56" y="783.76" font-size="59.5">10</tspan><tspan x="333.87" y="761.32" font-size="42.36">−2</tspan></text>
<text transform="scale(1 0.985)"><tspan x="577.46" y="783.76" font-size="59.5">10</tspan><tspan x="653.77" y="761.32" font-size="42.36">−1</tspan></text>
<text transform="scale(1 0.985)"><tspan x="913.86" y="783.76" font-size="59.5">10</tspan><tspan x="990.17" y="761.32" font-size="42.36">0</tspan></text>
<text transform="scale(1 0.985)"><tspan x="1233.76" y="783.76" font-size="59.5">10</tspan><tspan x="1310.07" y="761.32" font-size="42.36">1</tspan></text>
<text transform="scale(1 0.985)"><tspan x="1553.66" y="783.76" font-size="59.5">10</tspan><tspan x="1629.97" y="761.32" font-size="42.36">2</tspan></text>
<text transform="scale(1 0.985)"><tspan x="257.56" y="1676.75" font-size="59.5">10</tspan><tspan x="333.87" y="1654.31" font-size="42.36">−2</tspan></text>
<text transform="scale(1 0.985)"><tspan x="577.46" y="1676.75" font-size="59.5">10</tspan><tspan x="653.77" y="1654.31" font-size="42.36">−1</tspan></text>
<text transform="scale(1 0.985)"><tspan x="913.86" y="1676.75" font-size="59.5">10</tspan><tspan x="990.17" y="1654.31" font-size="42.36">0</tspan></text>
<text transform="scale(1 0.985)"><tspan x="1233.76" y="1676.75" font-size="59.5">10</tspan><tspan x="1310.07" y="1654.31" font-size="42.36">1</tspan></text>
<text transform="scale(1 0.985)"><tspan x="1553.66" y="1676.75" font-size="59.5">10</tspan><tspan x="1629.97" y="1654.31" font-size="42.36">2</tspan></text>
<text transform="scale(1 1.0)"><tspan x="153.79" y="913.81" font-size="59.5">20</tspan></text>
<text transform="scale(1 1.0)"><tspan x="153.79" y="1148.4" font-size="59.5">10</tspan></text>
<text transform="scale(1 1.0)"><tspan x="191.64" y="1321.29" font-size="59.5">6</tspan></text>
<text transform="scale(1 1.0)"><tspan x="191.64" y="1458.51" font-size="59.5">4</tspan></text>
<text transform="scale(1 1.0)"><tspan x="191.64" y="1555.88" font-size="59.5">3</tspan></text>
<text transform="scale(1 0.985)"><tspan x="94.25" y="1820.81" font-size="59.5">10</tspan><tspan x="170.86" y="1798.38" font-size="42.36">−1</tspan></text>
<text transform="scale(1 0.985)"><tspan x="94.58" y="2042.54" font-size="59.5">10</tspan><tspan x="171.19" y="2020.1" font-size="42.36">−2</tspan></text>
<text transform="scale(1 0.985)"><tspan x="93.73" y="2264.26" font-size="59.5">10</tspan><tspan x="170.34" y="2241.83" font-size="42.36">−3</tspan></text>
<text transform="scale(1 0.985)"><tspan x="92.72" y="2485.99" font-size="59.5">10</tspan><tspan x="169.33" y="2463.55" font-size="42.36">−4</tspan></text>
<text transform="scale(1 0.985)"><tspan x="258.36" y="2570.15" font-size="59.5">10</tspan><tspan x="334.67" y="2547.72" font-size="42.36">0</tspan></text>
<text transform="scale(1 0.985)"><tspan x="1056.36" y="2570.15" font-size="59.5">10</tspan><tspan x="1132.67" y="2547.72" font-size="42.36">1</tspan></text>
<text transform="scale(1 1.005)"><tspan x="871.02" y="844.58" font-size="66" class="i">f</tspan><tspan x="893.78" y="854.93" font-size="46.2" class="i">sc</tspan><tspan x="967.23" y="844.58" font-size="66">[</tspan><tspan x="990.73" y="844.58" font-size="66" class="i">Hz</tspan><tspan x="1075.79" y="844.58" font-size="66">]</tspan></text>
<text transform="scale(1 1.005)"><tspan x="822.48" y="1725.57" font-size="66">Δ</tspan><tspan x="867.88" y="1725.57" font-size="66" class="i">t</tspan><tspan x="897.6" y="1699.8" font-size="46.2">−1</tspan><tspan x="989.83" y="1725.57" font-size="66">[</tspan><tspan x="1016.46" y="1725.57" font-size="66" class="i">s</tspan><tspan x="1053.2" y="1699.8" font-size="46.2">−1</tspan><tspan x="1124.59" y="1725.57" font-size="66">]</tspan></text>
<text transform="scale(1 1.005)"><tspan x="953.38" y="2595.62" font-size="66" class="i">m</tspan></text>
<text transform="scale(1 1.005)"><tspan x="797.92" y="98.81" font-size="66" class="i">f</tspan><tspan x="826" y="73.03" font-size="46.2">−3/2</tspan></text>
<text transform="scale(1 1.005)"><tspan x="658.52" y="202.69" font-size="66" class="i">f</tspan><tspan x="686.5" y="176.92" font-size="46.2">−2</tspan></text>
<text transform="scale(1 1.005)"><tspan x="421.58" y="1119.9" font-size="66">Δ</tspan><tspan x="467.08" y="1119.9" font-size="66" class="i">t</tspan><tspan x="496.7" y="1094.13" font-size="46.2">−0.2</tspan></text>
<text transform="scale(1 1.005)"><tspan x="983.58" y="1914.03" font-size="66" class="i">m</tspan><tspan x="1050.7" y="1888.26" font-size="46.2">−2</tspan></text>
<text transform="scale(1 1.005)"><tspan x="690.08" y="2348.46" font-size="66" class="i">m</tspan><tspan x="757.7" y="2322.69" font-size="46.2">−3/2</tspan></text>
<text transform="translate(64.8 0) rotate(-90) scale(1 1.005)"><tspan x="-576.87" y="0" font-size="66" class="i">PSD</tspan><tspan x="-422.57" y="0" font-size="66">[</tspan><tspan x="-395.52" y="0" font-size="66" class="i">nT</tspan><tspan x="-308.98" y="-25.77" font-size="46.2">2</tspan><tspan x="-277.1" y="0" font-size="66">/</tspan><tspan x="-256.17" y="0" font-size="66" class="i">Hz</tspan><tspan x="-170.51" y="0" font-size="66">]</tspan></text>
<text transform="translate(126 0) rotate(-90) scale(1 1.005)"><tspan x="-1373.27" y="0" font-size="66" class="i">Kurtosis</tspan></text>
<text transform="translate(64.8 0) rotate(-90) scale(1 1.005)"><tspan x="-2276.77" y="0" font-size="66" class="i">P</tspan><tspan x="-2236.97" y="0" font-size="66">(</tspan><tspan x="-2210.82" y="0" font-size="66" class="i">m</tspan><tspan x="-2146.49" y="0" font-size="66">)</tspan><tspan x="-2120.4" y="0" font-size="66">/</tspan><tspan x="-2097.97" y="0" font-size="66" class="i">P</tspan><tspan x="-2057.87" y="0" font-size="66">(</tspan><tspan x="-2031.95" y="0" font-size="66">0</tspan><tspan x="-1989.89" y="0" font-size="66">)</tspan></text>
</svg>
</body></html>
